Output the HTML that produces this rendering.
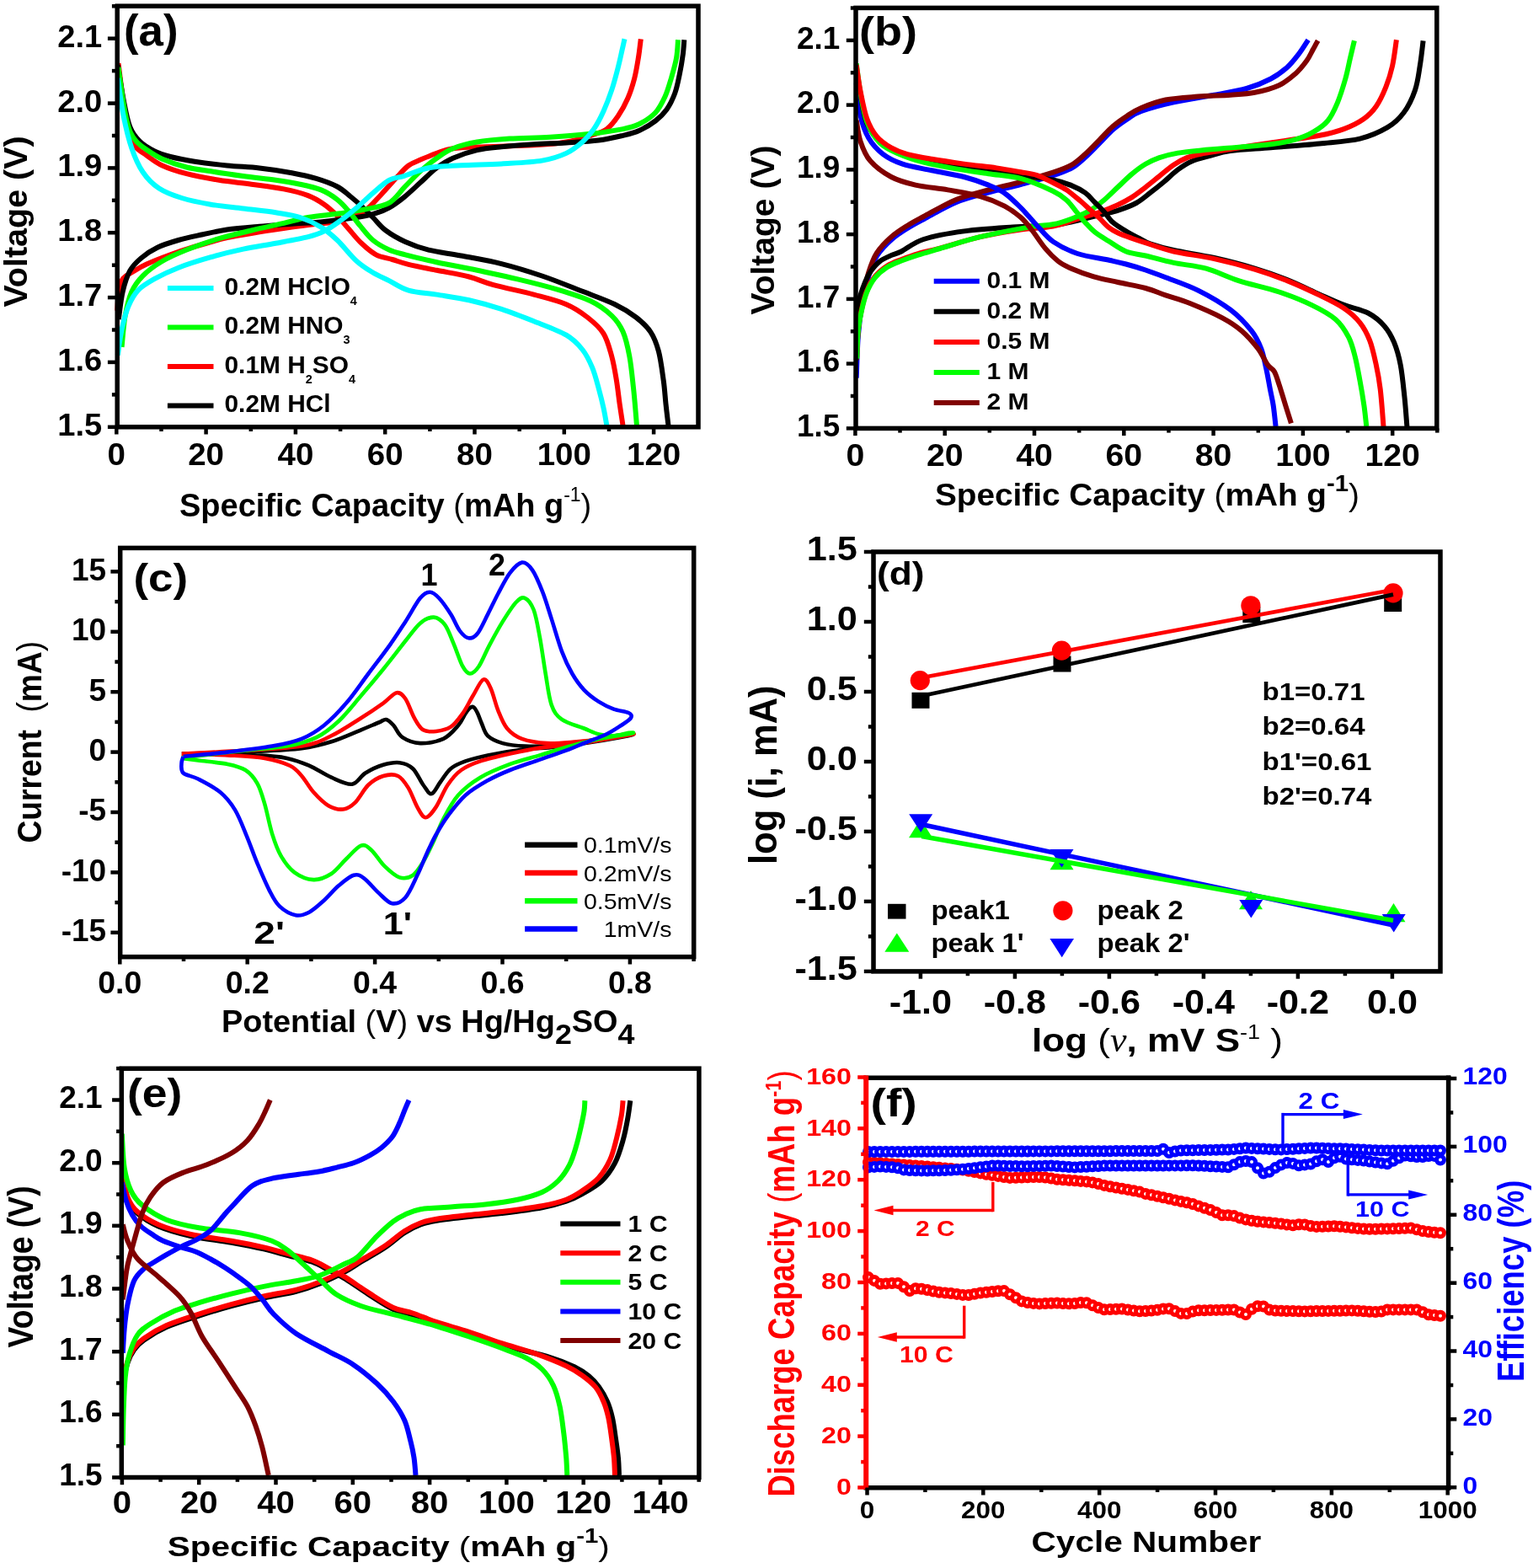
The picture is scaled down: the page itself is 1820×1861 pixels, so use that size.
<!DOCTYPE html>
<html><head><meta charset="utf-8"><style>
html,body{margin:0;padding:0;background:#fff;}
svg{display:block;}
text{font-family:"Liberation Sans",Arial,sans-serif;}
</style></head><body>
<svg xmlns="http://www.w3.org/2000/svg" width="1820" height="1861" viewBox="0 0 1820 1861">
<rect width="1820" height="1861" fill="#fff"/>
<path d="M139.2,368.7 C139.6,364.1 140.5,347.2 141.7,340.8 C142.9,334.4 144.1,333.1 146.5,330.2 C148.9,327.3 151.7,326.2 156.2,323.5 C160.7,320.8 165.8,317.3 173.5,313.8 C181.2,310.3 192.7,305.8 202.3,302.3 C211.9,298.8 220,296.1 231.2,292.7 C242.4,289.3 256.8,285 269.6,282.1 C282.4,279.2 295.2,277.5 308,275.4 C320.8,273.3 335.3,271.2 346.5,269.6 C357.7,268 367.4,266.8 375.4,265.8 C383.4,264.8 388.2,265.1 394.6,263.8 C401,262.5 407.4,260.2 413.8,258 C420.2,255.8 426.7,254.9 433.1,250.4 C439.5,245.9 445.9,237.9 452.3,231.2 C458.7,224.5 466.1,215.8 471.5,210 C476.9,204.2 480.4,199.9 485,196.5 C489.6,193.1 493.6,192 499.2,189.6 C504.8,187.2 512.1,184.1 518.5,181.9 C524.9,179.7 528.1,177.5 537.7,176.2 C547.3,174.9 560.2,174.8 576.2,174.2 C592.2,173.5 617.8,173.2 633.8,172.3 C649.8,171.4 661.1,170.4 672.3,168.5 C683.5,166.6 693.2,163.4 701.2,160.8 C709.2,158.2 715,156.9 720.4,153.1 C725.8,149.2 729.6,143.8 733.8,137.7 C738,131.6 742.2,123.9 745.4,116.5 C748.6,109.1 751,101.5 753.1,93.5 C755.2,85.5 756.6,76.4 757.9,68.5 C759.2,60.6 760.3,50 760.8,46.3" fill="none" stroke="#ff0000" stroke-width="6" stroke-linejoin="round" stroke-linecap="butt"/>
<path d="M140.5,75 C141.5,82.8 144.8,109.8 146.5,122 C148.2,134.2 149.1,140.9 150.5,148 C151.9,155.1 153.1,159.9 155,164.5 C156.9,169.1 158.9,172.2 162,175.5 C165.1,178.8 168.4,180.5 173.5,184 C178.6,187.5 184.7,192.8 192.7,196.5 C200.7,200.2 210.3,203.3 221.5,206.2 C232.7,209.1 247.2,211.7 260,213.8 C272.8,215.9 285.7,216.9 298.5,218.7 C311.3,220.5 325.7,222.2 336.9,224.4 C348.1,226.6 357.8,229.1 365.8,232.1 C373.8,235.1 379.2,238.7 385,242.7 C390.8,246.7 395.6,251.4 400.4,256.2 C405.2,261 409,266.1 413.8,271.5 C418.6,276.9 423.8,283.7 429.2,288.8 C434.6,293.9 440.4,299.1 446.5,302.3 C452.6,305.5 459.4,306.1 465.8,308 C472.2,309.9 476.2,311.7 485,313.8 C493.8,315.9 506.5,318.4 518.5,320.8 C530.5,323.2 545.7,325.6 556.9,328.5 C568.1,331.4 573,334.6 585.8,338.1 C598.6,341.6 619.4,345.8 633.8,349.6 C648.2,353.5 661.7,356.7 672.3,361.2 C682.9,365.7 689.9,370.7 697.3,376.5 C704.7,382.3 711.7,388.1 716.5,395.8 C721.3,403.5 723.6,413.4 726.2,422.7 C728.8,432 730.3,441.9 731.9,451.5 C733.5,461.1 734.5,471.4 735.8,480.4 C737.1,489.4 739,501.2 739.6,505.4" fill="none" stroke="#ff0000" stroke-width="6" stroke-linejoin="round" stroke-linecap="butt"/>
<path d="M140.8,379 C141.6,373.6 143.4,356.1 145.6,346.5 C147.8,336.9 150.5,328.2 154.2,321.5 C157.9,314.8 162.2,310.8 167.7,306.2 C173.1,301.6 179.5,297.2 186.9,293.7 C194.3,290.2 202.9,287.6 211.9,285 C220.9,282.4 231.2,280.4 240.8,278.3 C250.4,276.2 258.4,274.1 269.6,272.5 C280.8,270.9 295.2,269.8 308,268.7 C320.8,267.6 333.7,266.8 346.5,265.8 C359.3,264.8 372.2,264.2 385,262.9 C397.8,261.6 413.9,259.4 423.5,258 C433.1,256.6 436.3,256.1 442.7,254.2 C449.1,252.3 455.7,249.9 461.9,246.5 C468.1,243.1 473.8,238.8 480,233.8 C486.2,228.8 492.8,222.3 499.2,216.5 C505.6,210.7 512.1,204 518.5,199.2 C524.9,194.4 529.7,191.2 537.7,187.7 C545.7,184.2 556.9,180.3 566.5,178.1 C576.1,175.8 584.2,175.3 595.4,174.2 C606.6,173.1 621,172.1 633.8,171.3 C646.6,170.5 659.5,170.2 672.3,169.4 C685.1,168.6 699.6,167.9 710.8,166.5 C722,165.1 731.6,162.7 739.6,160.8 C747.6,158.9 752.4,157.9 758.8,155 C765.2,152.1 772.6,147.7 778.1,143.5 C783.6,139.3 787.6,135.4 791.5,130 C795.4,124.5 798.6,117.8 801.2,110.8 C803.8,103.8 805.3,95.4 806.9,87.7 C808.5,80 809.9,71.3 810.8,64.6 C811.7,57.9 812,50.2 812.3,47.3" fill="none" stroke="#000000" stroke-width="6" stroke-linejoin="round" stroke-linecap="butt"/>
<path d="M139.8,77.3 C140.9,84 144.1,105.5 146.5,117.7 C148.9,129.9 151,142.1 154.2,150.4 C157.4,158.7 161,162.9 165.8,167.7 C170.6,172.5 176.9,176.1 183,179.2 C189.1,182.2 194.3,183.9 202.3,186 C210.3,188.1 220,189.9 231.2,191.7 C242.4,193.4 256.8,195.2 269.6,196.5 C282.4,197.8 295.2,198 308,199.4 C320.8,200.8 335.3,203.1 346.5,205.2 C357.7,207.3 366.4,209.2 375.4,211.9 C384.4,214.6 393.7,218 400.4,221.5 C407.1,225 411,229.2 415.8,233 C420.6,236.8 424.7,240.4 429.2,244.6 C433.7,248.8 437.9,253.2 442.7,258 C447.5,262.8 451.6,268.7 458,273.5 C464.4,278.3 472.7,283.1 481.2,287 C489.7,290.9 497.8,293.9 508.8,296.7 C519.8,299.4 532.9,300.8 547.3,303.5 C561.7,306.2 579.4,309.1 595.4,313.1 C611.4,317.1 627.5,322.1 643.5,327.5 C659.5,332.9 677.1,340.2 691.5,345.8 C705.9,351.4 719.4,356.1 730,361.2 C740.6,366.3 748,371.1 755,376.5 C762,381.9 767.8,387.1 772.3,393.8 C776.8,400.5 779.3,407.3 781.9,416.9 C784.5,426.5 786.2,440.9 787.7,451.5 C789.2,462.1 789.6,471.4 790.6,480.4 C791.6,489.4 793,501.2 793.5,505.4" fill="none" stroke="#000000" stroke-width="6" stroke-linejoin="round" stroke-linecap="butt"/>
<path d="M144.6,411.9 C145.2,405.8 146.6,386.3 148.5,375.4 C150.4,364.5 152.7,354.5 156.2,346.5 C159.7,338.5 163.5,333.4 169.6,327.3 C175.7,321.2 184,315.1 192.7,310 C201.3,304.9 210.3,301 221.5,296.5 C232.7,292 247.2,286.9 260,283.1 C272.8,279.3 285.7,276.6 298.5,273.5 C311.3,270.4 325.7,267.4 336.9,264.8 C348.1,262.2 354.6,259.9 365.8,258 C377,256.1 393,254.9 404.2,253.3 C415.4,251.7 423.5,250.6 433.1,248.5 C442.7,246.4 454.1,245.2 461.9,240.8 C469.7,236.4 473.8,228.6 480,222.3 C486.2,216 492.8,208.9 499.2,203.1 C505.6,197.3 512.1,192.2 518.5,187.7 C524.9,183.2 529.7,179.4 537.7,176.2 C545.7,173 555.3,170.4 566.5,168.5 C577.7,166.6 590.6,165.6 605,164.6 C619.4,163.6 637.1,163.7 653.1,162.7 C669.1,161.7 686.8,160.4 701.2,158.8 C715.6,157.2 730,155 739.6,153.1 C749.2,151.2 752.4,150.5 758.8,147.3 C765.2,144.1 773,139.2 778.1,133.8 C783.2,128.4 786.4,121.6 789.6,114.6 C792.8,107.5 795,99.2 797.3,91.5 C799.5,83.8 801.8,75.9 803.1,68.5 C804.4,61.1 804.7,50.8 805,47.3" fill="none" stroke="#00ff00" stroke-width="6" stroke-linejoin="round" stroke-linecap="butt"/>
<path d="M140.5,80 C141.5,87 144.8,111.5 146.5,122 C148.2,132.5 149.1,137.1 150.5,143 C151.9,148.9 153.1,153.3 155,157.5 C156.9,161.7 158.9,164.7 162,168 C165.1,171.3 168.4,173.8 173.5,177.3 C178.6,180.8 184.7,185.3 192.7,188.8 C200.7,192.3 211.9,196.1 221.5,198.5 C231.1,200.9 239.2,201.6 250.4,203.3 C261.6,205.1 276,207.2 288.8,209 C301.6,210.8 316.1,212.2 327.3,213.8 C338.5,215.4 347.2,216.8 356.2,218.7 C365.2,220.6 373.8,222.4 381.2,225.4 C388.6,228.4 395,232.7 400.4,236.9 C405.8,241.1 409.3,245.3 413.8,250.4 C418.3,255.5 422.5,261.9 427.3,267.7 C432.1,273.5 436.9,280.2 442.7,285 C448.5,289.8 455.5,293.6 461.9,296.5 C468.3,299.4 471.8,299.9 481.2,302.3 C490.6,304.8 504.3,308.1 518.5,311.2 C532.7,314.3 550.5,317.4 566.5,320.8 C582.5,324.2 598.6,327.5 614.6,331.3 C630.6,335.1 648.3,339.5 662.7,343.8 C677.1,348.1 690.6,352.2 701.2,357.3 C711.8,362.4 719.8,368.5 726.2,374.6 C732.6,380.7 736.1,385.8 739.6,393.8 C743.1,401.8 745.2,411.5 747.3,422.7 C749.4,433.9 750.6,447.4 752.1,461.2 C753.6,475 755.4,498 756,505.4" fill="none" stroke="#00ff00" stroke-width="6" stroke-linejoin="round" stroke-linecap="butt"/>
<path d="M139.8,421.5 C140.6,416.4 142.5,400.4 144.6,390.8 C146.7,381.2 149.1,371.5 152.3,363.8 C155.5,356.1 158.7,350 163.8,344.6 C168.9,339.2 175.1,335.7 183.1,331.2 C191.1,326.7 200.7,322 211.9,317.7 C223.1,313.4 237.6,308.9 250.4,305.2 C263.2,301.5 276,298.3 288.8,295.6 C301.6,292.9 314.5,291.2 327.3,288.8 C340.1,286.4 356.2,283.6 365.8,281.2 C375.4,278.8 378.6,277.6 385,274.4 C391.4,271.2 397.8,266.5 404.2,261.9 C410.6,257.2 417.1,251.9 423.5,246.5 C429.9,241.1 436.3,234.6 442.7,229.2 C449.1,223.8 455.7,217.2 461.9,213.8 C468.1,210.4 472.2,211.2 480,208.8 C487.8,206.4 497.6,201.3 508.8,199.2 C520,197.1 532.9,197.1 547.3,196.3 C561.7,195.5 579.4,195.4 595.4,194.4 C611.4,193.4 630.7,192.7 643.5,190.6 C656.3,188.5 664.3,185.6 672.3,181.9 C680.3,178.2 686,173.3 691.5,168.5 C697,163.7 700.8,159.2 705,153.1 C709.2,147 713,139.6 716.5,131.9 C720,124.2 723.3,115.6 726.2,106.9 C729.1,98.2 731.7,88 733.8,80 C735.9,72 737.4,64.4 738.7,58.8 C740,53.2 741,48.4 741.5,46.3" fill="none" stroke="#00ffff" stroke-width="6" stroke-linejoin="round" stroke-linecap="butt"/>
<path d="M139.8,92.7 C140.9,100.1 143.8,123.1 146.5,136.9 C149.2,150.7 152.3,164.2 156.2,175.4 C160,186.6 164.2,196.2 169.6,204.2 C175,212.2 181.1,218.4 188.8,223.5 C196.5,228.6 205.5,231.8 215.8,235 C226.1,238.2 238.2,240.6 250.4,242.7 C262.6,244.8 276,245.9 288.8,247.5 C301.6,249.1 316.1,250.6 327.3,252.3 C338.5,254.1 347.2,255.1 356.2,258 C365.2,260.9 373.8,265.1 381.2,269.6 C388.6,274.1 393.3,278.3 400.4,285 C407.4,291.7 416.4,303.6 423.5,310 C430.6,316.4 436.3,319.6 442.7,323.5 C449.1,327.4 454.8,329.6 461.9,333.1 C468.9,336.6 475.6,341.9 485,344.6 C494.4,347.4 506.5,347.7 518.5,349.6 C530.5,351.6 544.1,353.4 556.9,356.3 C569.7,359.2 582.6,362.7 595.4,366.9 C608.2,371.1 621,376.2 633.8,381.3 C646.6,386.4 662.7,392.1 672.3,397.7 C681.9,403.3 686.4,408.6 691.5,415 C696.6,421.4 699.9,428.5 703.1,436.2 C706.3,443.9 708.6,453.2 710.8,461.2 C713,469.2 714.9,476.8 716.5,484.2 C718.1,491.6 719.8,501.9 720.4,505.4" fill="none" stroke="#00ffff" stroke-width="6" stroke-linejoin="round" stroke-linecap="butt"/>
<rect x="139.2" y="7.2" width="689.8" height="499.6" fill="none" stroke="#000" stroke-width="5.5"/>
<line x1="127.9" y1="506.8" x2="139.2" y2="506.8" stroke="#000" stroke-width="4.5" stroke-linecap="butt"/>
<line x1="127.9" y1="429.9" x2="139.2" y2="429.9" stroke="#000" stroke-width="4.5" stroke-linecap="butt"/>
<line x1="127.9" y1="353.1" x2="139.2" y2="353.1" stroke="#000" stroke-width="4.5" stroke-linecap="butt"/>
<line x1="127.9" y1="276.2" x2="139.2" y2="276.2" stroke="#000" stroke-width="4.5" stroke-linecap="butt"/>
<line x1="127.9" y1="199.4" x2="139.2" y2="199.4" stroke="#000" stroke-width="4.5" stroke-linecap="butt"/>
<line x1="127.9" y1="122.6" x2="139.2" y2="122.6" stroke="#000" stroke-width="4.5" stroke-linecap="butt"/>
<line x1="127.9" y1="45.7" x2="139.2" y2="45.7" stroke="#000" stroke-width="4.5" stroke-linecap="butt"/>
<line x1="132.9" y1="468.4" x2="139.2" y2="468.4" stroke="#000" stroke-width="4.5" stroke-linecap="butt"/>
<line x1="132.9" y1="391.5" x2="139.2" y2="391.5" stroke="#000" stroke-width="4.5" stroke-linecap="butt"/>
<line x1="132.9" y1="314.7" x2="139.2" y2="314.7" stroke="#000" stroke-width="4.5" stroke-linecap="butt"/>
<line x1="132.9" y1="237.8" x2="139.2" y2="237.8" stroke="#000" stroke-width="4.5" stroke-linecap="butt"/>
<line x1="132.9" y1="161" x2="139.2" y2="161" stroke="#000" stroke-width="4.5" stroke-linecap="butt"/>
<line x1="132.9" y1="84.1" x2="139.2" y2="84.1" stroke="#000" stroke-width="4.5" stroke-linecap="butt"/>
<line x1="132.9" y1="7.3" x2="139.2" y2="7.3" stroke="#000" stroke-width="4.5" stroke-linecap="butt"/>
<line x1="138.3" y1="506.8" x2="138.3" y2="515.5" stroke="#000" stroke-width="4.5" stroke-linecap="butt"/>
<line x1="244.6" y1="506.8" x2="244.6" y2="515.5" stroke="#000" stroke-width="4.5" stroke-linecap="butt"/>
<line x1="350.9" y1="506.8" x2="350.9" y2="515.5" stroke="#000" stroke-width="4.5" stroke-linecap="butt"/>
<line x1="457.2" y1="506.8" x2="457.2" y2="515.5" stroke="#000" stroke-width="4.5" stroke-linecap="butt"/>
<line x1="563.5" y1="506.8" x2="563.5" y2="515.5" stroke="#000" stroke-width="4.5" stroke-linecap="butt"/>
<line x1="669.8" y1="506.8" x2="669.8" y2="515.5" stroke="#000" stroke-width="4.5" stroke-linecap="butt"/>
<line x1="776.1" y1="506.8" x2="776.1" y2="515.5" stroke="#000" stroke-width="4.5" stroke-linecap="butt"/>
<line x1="191.5" y1="506.8" x2="191.5" y2="512" stroke="#000" stroke-width="4.5" stroke-linecap="butt"/>
<line x1="297.8" y1="506.8" x2="297.8" y2="512" stroke="#000" stroke-width="4.5" stroke-linecap="butt"/>
<line x1="404.1" y1="506.8" x2="404.1" y2="512" stroke="#000" stroke-width="4.5" stroke-linecap="butt"/>
<line x1="510.4" y1="506.8" x2="510.4" y2="512" stroke="#000" stroke-width="4.5" stroke-linecap="butt"/>
<line x1="616.7" y1="506.8" x2="616.7" y2="512" stroke="#000" stroke-width="4.5" stroke-linecap="butt"/>
<line x1="723" y1="506.8" x2="723" y2="512" stroke="#000" stroke-width="4.5" stroke-linecap="butt"/>
<text x="121.2" y="516.8" font-size="37" font-weight="bold" fill="#000" text-anchor="end" textLength="53" lengthAdjust="spacingAndGlyphs">1.5</text>
<text x="121.2" y="439.9" font-size="37" font-weight="bold" fill="#000" text-anchor="end" textLength="53" lengthAdjust="spacingAndGlyphs">1.6</text>
<text x="121.2" y="363.1" font-size="37" font-weight="bold" fill="#000" text-anchor="end" textLength="53" lengthAdjust="spacingAndGlyphs">1.7</text>
<text x="121.2" y="286.2" font-size="37" font-weight="bold" fill="#000" text-anchor="end" textLength="53" lengthAdjust="spacingAndGlyphs">1.8</text>
<text x="121.2" y="209.4" font-size="37" font-weight="bold" fill="#000" text-anchor="end" textLength="53" lengthAdjust="spacingAndGlyphs">1.9</text>
<text x="121.2" y="132.6" font-size="37" font-weight="bold" fill="#000" text-anchor="end" textLength="53" lengthAdjust="spacingAndGlyphs">2.0</text>
<text x="121.2" y="55.7" font-size="37" font-weight="bold" fill="#000" text-anchor="end" textLength="53" lengthAdjust="spacingAndGlyphs">2.1</text>
<text x="138.3" y="552" font-size="37" font-weight="bold" fill="#000" text-anchor="middle" textLength="21.4" lengthAdjust="spacingAndGlyphs">0</text>
<text x="244.6" y="552" font-size="37" font-weight="bold" fill="#000" text-anchor="middle" textLength="42.8" lengthAdjust="spacingAndGlyphs">20</text>
<text x="350.9" y="552" font-size="37" font-weight="bold" fill="#000" text-anchor="middle" textLength="42.8" lengthAdjust="spacingAndGlyphs">40</text>
<text x="457.2" y="552" font-size="37" font-weight="bold" fill="#000" text-anchor="middle" textLength="42.8" lengthAdjust="spacingAndGlyphs">60</text>
<text x="563.5" y="552" font-size="37" font-weight="bold" fill="#000" text-anchor="middle" textLength="42.8" lengthAdjust="spacingAndGlyphs">80</text>
<text x="669.8" y="552" font-size="37" font-weight="bold" fill="#000" text-anchor="middle" textLength="64.2" lengthAdjust="spacingAndGlyphs">100</text>
<text x="776.1" y="552" font-size="37" font-weight="bold" fill="#000" text-anchor="middle" textLength="64.2" lengthAdjust="spacingAndGlyphs">120</text>
<text x="147" y="53.9" font-size="52" font-weight="bold" fill="#000" text-anchor="start" textLength="64.5" lengthAdjust="spacingAndGlyphs">(a)</text>
<line x1="198.9" y1="342" x2="253.5" y2="342" stroke="#00ffff" stroke-width="6" stroke-linecap="butt"/>
<text x="266.5" y="349.5" font-size="29" font-weight="bold" fill="#000" text-anchor="start" textLength="157.4" lengthAdjust="spacingAndGlyphs"><tspan>0.2M HClO</tspan><tspan font-size="14" dy="12.4">4</tspan></text>
<line x1="198.9" y1="388.5" x2="253.5" y2="388.5" stroke="#00ff00" stroke-width="6" stroke-linecap="butt"/>
<text x="266.5" y="396.0" font-size="29" font-weight="bold" fill="#000" text-anchor="start" textLength="149.1" lengthAdjust="spacingAndGlyphs"><tspan>0.2M HNO</tspan><tspan font-size="14" dy="12.4">3</tspan></text>
<line x1="198.9" y1="435" x2="253.5" y2="435" stroke="#ff0000" stroke-width="6" stroke-linecap="butt"/>
<text x="266.5" y="442.5" font-size="29" font-weight="bold" fill="#000" text-anchor="start" textLength="155.5" lengthAdjust="spacingAndGlyphs"><tspan>0.1M H</tspan><tspan font-size="14" dy="12.4">2</tspan><tspan dy="-12.4">SO</tspan><tspan font-size="14" dy="12.4">4</tspan></text>
<line x1="198.9" y1="481.5" x2="253.5" y2="481.5" stroke="#000000" stroke-width="6" stroke-linecap="butt"/>
<text x="266.5" y="489.0" font-size="29" font-weight="bold" fill="#000" text-anchor="start" textLength="126.1" lengthAdjust="spacingAndGlyphs"><tspan>0.2M HCl</tspan></text>
<text x="213" y="612.9" font-size="38" font-weight="bold">Specific Capacity <tspan font-weight="normal">(</tspan>mAh g<tspan font-size="23" dy="-18" font-weight="normal">-1</tspan><tspan dy="18" font-weight="normal">)</tspan></text>
<text x="31.8" y="364.6" font-size="39.5" font-weight="bold" transform="rotate(-90 31.8 364.6)">Voltage (V)</text>
<path d="M1016.7,448.5 C1017.1,440.1 1017.7,412.9 1018.9,398 C1020.1,383.1 1021.7,370.9 1023.8,359 C1025.9,347.1 1028.7,335.8 1031.6,326.5 C1034.5,317.2 1036.8,310.4 1041.3,303.4 C1045.8,296.3 1052.5,289.6 1058.6,284.2 C1064.7,278.8 1071.4,274.7 1077.8,270.7 C1084.2,266.7 1087.4,265.1 1097,260 C1106.6,254.9 1122.7,245.3 1135.5,240 C1148.3,234.7 1161.2,231.9 1174,228.4 C1186.8,224.9 1199.7,222.2 1212.4,218.8 C1225.2,215.4 1240.5,211.4 1250.5,208.2 C1260.5,205 1266.1,203.1 1272.5,199.4 C1278.9,195.7 1283.5,191.1 1289,186.2 C1294.5,181.3 1300,175.3 1305.5,169.8 C1311,164.3 1316.5,158.1 1322,153.3 C1327.5,148.5 1333,144.8 1338.5,141.2 C1344,137.6 1345.8,135.3 1355,132 C1364.2,128.7 1379.1,124.6 1393.5,121.4 C1407.9,118.2 1427.1,115.4 1441.5,112.7 C1455.9,110 1468.8,108.2 1480,105 C1491.2,101.8 1500.8,97.7 1508.8,93.5 C1516.8,89.3 1522.6,84.8 1528.1,80 C1533.5,75.2 1537.3,70 1541.5,64.6 C1545.7,59.1 1551.2,50.2 1553.1,47.3" fill="none" stroke="#0000ff" stroke-width="6" stroke-linejoin="round" stroke-linecap="butt"/>
<path d="M1016.7,427.3 C1017,421.9 1017.6,406.5 1018.7,394.6 C1019.8,382.8 1021.4,368.1 1023.5,356.2 C1025.6,344.3 1028.3,332.8 1031.2,323.5 C1034.1,314.2 1036.3,307.4 1040.8,300.4 C1045.3,293.3 1052,286.6 1058.1,281.2 C1064.2,275.8 1070.9,271.7 1077.3,267.7 C1083.7,263.7 1086.9,262.1 1096.5,257 C1106.1,251.9 1122.2,242.2 1135,236.9 C1147.8,231.6 1160.7,228.9 1173.5,225.4 C1186.3,221.9 1199.2,219.2 1211.9,215.8 C1224.7,212.4 1240,208 1250,204.7 C1260,201.4 1265.6,199.6 1272,195.9 C1278.4,192.2 1283,187.6 1288.5,182.7 C1294,177.8 1299.5,171.8 1305,166.3 C1310.5,160.8 1315.9,154.6 1321.4,149.8 C1326.9,145 1332.3,141.3 1337.9,137.7 C1343.5,134.1 1347.3,131.2 1355,128 C1362.7,124.8 1372.6,120.7 1383.8,118.5 C1395,116.3 1409.5,115.6 1422.3,114.6 C1435.1,113.6 1449.6,113.5 1460.8,112.7 C1472,111.9 1480,111.7 1489.6,109.8 C1499.2,107.9 1510.5,104.9 1518.5,101.2 C1526.5,97.5 1532.2,92.5 1537.7,87.7 C1543.2,82.9 1547.7,77.1 1551.2,72.3 C1554.7,67.5 1556.6,62.8 1558.8,58.8 C1561,54.8 1563.6,50 1564.6,48.3" fill="none" stroke="#800000" stroke-width="6" stroke-linejoin="round" stroke-linecap="butt"/>
<path d="M1016.9,375 C1017,374 1016.8,372.7 1017.5,368.8 C1018.2,364.9 1019.6,357.3 1021.2,351.6 C1022.8,345.9 1025.1,339.4 1027.2,334.4 C1029.3,329.4 1031.2,325.5 1034.1,321.5 C1037,317.5 1040.5,313.3 1044.4,310.3 C1048.3,307.3 1053,305.4 1057.3,303.4 C1061.6,301.4 1063.5,301.7 1070,298.5 C1076.5,295.3 1084.1,288 1096.5,284 C1108.9,280 1127,276.8 1144.6,274.4 C1162.2,272 1184.7,270.7 1202.3,269.5 C1219.9,268.3 1236.5,268.8 1250,267.4 C1263.5,265.9 1273.8,262.8 1283,260.8 C1292.2,258.8 1297.7,257.1 1305,255.3 C1312.3,253.5 1319.6,252.2 1326.9,249.8 C1334.2,247.4 1342.5,244.5 1348.9,241 C1355.3,237.5 1359.9,233.1 1365.4,228.9 C1370.9,224.7 1376.4,220.3 1381.9,215.7 C1387.4,211.1 1392.9,205.4 1398.4,201.4 C1403.9,197.4 1408.4,194.2 1414.8,191.5 C1421.2,188.8 1429.1,187 1436.8,184.9 C1444.5,182.8 1448.8,180.6 1460.8,179 C1472.8,177.4 1491.2,176.6 1508.8,175.2 C1526.4,173.8 1548.9,172.2 1566.5,170.4 C1584.1,168.6 1601.1,167.8 1614.6,164.6 C1628.1,161.4 1638.6,156.3 1647.3,151.2 C1656,146.1 1661,141.2 1666.5,133.8 C1672,126.4 1676.8,116.2 1680,106.9 C1683.2,97.6 1684.2,87.9 1685.8,78.1 C1687.4,68.3 1689,53.3 1689.6,48.3" fill="none" stroke="#000000" stroke-width="6" stroke-linejoin="round" stroke-linecap="butt"/>
<path d="M1017.3,424 C1017.5,418.8 1017.7,402.4 1018.6,393 C1019.5,383.6 1021.2,375.2 1022.9,367.3 C1024.6,359.4 1026.3,352.2 1028.9,345.8 C1031.5,339.4 1034.4,333.6 1038.4,328.6 C1042.4,323.6 1047.7,319.1 1053,315.7 C1058.3,312.3 1064,310.4 1070.2,308 C1076.4,305.6 1082.4,303.3 1090,301.1 C1097.6,298.9 1103.5,297.9 1115.8,294.6 C1128.1,291.3 1147.8,284.9 1163.8,281.2 C1179.8,277.5 1197.5,274.6 1211.9,272.5 C1226.3,270.4 1238.2,270.8 1250,268.5 C1261.8,266.2 1273.8,261.4 1283,258.6 C1292.2,255.9 1297.7,254.6 1305,252 C1312.3,249.4 1320.5,246.1 1326.9,243.2 C1333.3,240.3 1337.9,237.9 1343.4,234.4 C1348.9,230.9 1354.4,226.5 1359.9,222.3 C1365.4,218.1 1370.9,213.5 1376.4,209.1 C1381.9,204.7 1387.4,199.6 1392.9,195.9 C1398.4,192.2 1403.8,189.3 1409.3,187.1 C1414.8,184.9 1418.8,184.1 1425.8,182.7 C1432.8,181.3 1437.4,180.7 1451.2,178.5 C1465,176.3 1489.6,172.3 1508.8,169.4 C1528,166.5 1552.1,163.5 1566.5,160.8 C1580.9,158.1 1586.7,156.3 1595.4,153.1 C1604.1,149.9 1612.1,146 1618.5,141.5 C1624.9,137 1629.3,132.6 1633.8,126.2 C1638.3,119.8 1642.2,111.1 1645.4,103.1 C1648.6,95.1 1651,87.4 1653.1,78.1 C1655.2,68.8 1657.1,52.4 1657.9,47.3" fill="none" stroke="#ff0000" stroke-width="6" stroke-linejoin="round" stroke-linecap="butt"/>
<path d="M1017.3,425.6 C1017.5,420.4 1017.7,404.1 1018.6,394.6 C1019.5,385.1 1021.2,376.7 1022.9,368.8 C1024.6,360.9 1026.3,353.8 1028.9,347.3 C1031.5,340.9 1034.4,335.1 1038.4,330.1 C1042.4,325.1 1047.7,320.6 1053,317.2 C1058.3,313.8 1064,311.9 1070.2,309.5 C1076.4,307.1 1082.4,305 1090,302.6 C1097.6,300.2 1103.5,298.6 1115.8,295 C1128.1,291.4 1146.2,285.4 1163.8,281.2 C1181.4,277 1207.1,272.1 1221.5,269.6 C1235.9,267.1 1241.6,268 1250,266.3 C1258.4,264.6 1264.7,262.4 1272,259.7 C1279.3,256.9 1287.6,253.5 1294,249.8 C1300.4,246.1 1304.9,242.3 1310.4,237.7 C1315.9,233.1 1321.4,227.4 1326.9,222.3 C1332.4,217.2 1337.9,211.5 1343.4,206.9 C1348.9,202.3 1354.4,198.1 1359.9,194.8 C1365.4,191.5 1370,189.3 1376.4,187.1 C1382.8,184.9 1390.2,183 1398.4,181.6 C1406.6,180.2 1417,179.3 1425.8,178.4 C1434.6,177.5 1437.4,177.4 1451.2,176.2 C1465,175 1494.4,173.1 1508.8,171.3 C1523.2,169.5 1529.4,168 1537.7,165.6 C1546,163.2 1552.4,160.6 1558.8,156.9 C1565.2,153.2 1571.4,149.3 1576.2,143.5 C1581,137.7 1584.2,130.6 1587.7,122.3 C1591.2,114 1594.7,102.5 1597.3,93.5 C1599.9,84.5 1601.3,76 1603.1,68.5 C1604.9,61 1607.1,51.7 1607.9,48.3" fill="none" stroke="#00ff00" stroke-width="6" stroke-linejoin="round" stroke-linecap="butt"/>
<path d="M1016.7,98.5 C1017.5,104.9 1019.1,126 1021.5,136.9 C1023.9,147.8 1026.7,156.1 1031.2,163.8 C1035.7,171.5 1041.8,178 1048.5,183.1 C1055.2,188.2 1061.9,191.4 1071.5,194.6 C1081.1,197.8 1094,199.7 1106.2,202.3 C1118.4,204.9 1133.4,207.1 1144.6,210 C1155.8,212.9 1165.5,216.4 1173.5,219.6 C1181.5,222.8 1186.3,224.7 1192.7,229.2 C1199.1,233.7 1205.5,240.1 1211.9,246.5 C1218.3,252.9 1224.8,261 1231.2,267.7 C1237.6,274.4 1242.4,281.3 1250.4,286.9 C1258.4,292.4 1268,297.3 1279.2,301 C1290.4,304.7 1308.1,306.9 1317.7,309 C1327.3,311.1 1329.9,311.6 1336.9,313.5 C1344,315.4 1352.2,317.9 1360,320.5 C1367.8,323.1 1373.4,325.2 1383.8,329.2 C1394.2,333.2 1409.5,338.2 1422.3,344.6 C1435.1,351 1450.2,359.7 1460.8,367.7 C1471.4,375.7 1479.7,385 1485.8,392.7 C1491.9,400.4 1494.4,406.4 1497.3,413.8 C1500.2,421.2 1501.3,428.9 1503.1,436.9 C1504.9,444.9 1506.5,454.5 1507.9,461.9 C1509.3,469.3 1510.6,473.8 1511.7,481.2 C1512.8,488.6 1514.1,502 1514.6,506.2" fill="none" stroke="#0000ff" stroke-width="6" stroke-linejoin="round" stroke-linecap="butt"/>
<path d="M1016.7,80 C1017.5,85.3 1019.4,100.9 1021.5,112 C1023.6,123.1 1024.7,136.6 1029.2,146.5 C1033.7,156.4 1040.5,165.1 1048.5,171.5 C1056.5,177.9 1066.1,181.2 1077.3,185 C1088.5,188.8 1101.4,191.9 1115.8,194.6 C1130.2,197.3 1147.8,199.1 1163.8,201.3 C1179.8,203.6 1197.5,206.1 1211.9,208.1 C1226.3,210.1 1240,211.5 1250,213.5 C1260,215.5 1265.6,217.5 1272,220.1 C1278.4,222.7 1283.9,225.6 1288.5,228.9 C1293.1,232.2 1295.8,236.2 1299.5,239.9 C1303.2,243.6 1306.8,246.9 1310.4,250.9 C1314.1,254.9 1316.8,260.1 1321.4,264.1 C1326,268.1 1332.4,271.8 1337.9,275.1 C1343.4,278.4 1349.8,281.4 1354.4,283.8 C1359,286.2 1358.9,287.1 1365.4,289.3 C1371.9,291.5 1380.8,294.2 1393.5,297 C1406.2,299.8 1425.5,302.4 1441.5,306 C1457.5,309.6 1475.2,314.2 1489.6,318.6 C1504,323 1515.3,327 1528.1,332.1 C1540.9,337.2 1555.3,344.4 1566.5,349.4 C1577.7,354.4 1585.8,358.2 1595.4,361.9 C1605,365.6 1616.2,367.3 1624.2,371.5 C1632.2,375.7 1638.4,381.1 1643.5,386.9 C1648.6,392.7 1651.8,398.5 1655,406.2 C1658.2,413.9 1660.6,422.2 1662.7,433.1 C1664.8,444 1666.2,459.3 1667.5,471.5 C1668.8,483.7 1669.9,500.4 1670.4,506.2" fill="none" stroke="#000000" stroke-width="6" stroke-linejoin="round" stroke-linecap="butt"/>
<path d="M1016.7,75.4 C1017.5,81.2 1019.4,98.5 1021.5,110 C1023.6,121.5 1025.4,134.7 1029.2,144.6 C1033,154.5 1038.2,163.2 1044.6,169.6 C1051,176 1059,179.2 1067.7,183.1 C1076.4,186.9 1085.3,189.8 1096.5,192.7 C1107.7,195.6 1122.2,198.2 1135,200.4 C1147.8,202.7 1160.7,204.3 1173.5,206.2 C1186.3,208.1 1199.2,208.5 1211.9,211.9 C1224.7,215.3 1240.9,222.4 1250,226.7 C1259.1,231 1261.9,233.7 1266.5,237.7 C1271.1,241.7 1273.8,246.5 1277.5,250.9 C1281.2,255.3 1284.8,260.1 1288.5,264.1 C1292.2,268.1 1294.9,271.5 1299.5,275.1 C1304.1,278.8 1309.7,282.1 1315.9,286 C1322.1,289.9 1329.6,295.6 1336.9,298.5 C1344.2,301.4 1350.6,301.3 1360,303.5 C1369.4,305.7 1381.5,309.4 1393.5,311.9 C1405.5,314.4 1419.1,315.2 1431.9,318.7 C1444.7,322.2 1456,328.5 1470.4,333.1 C1484.8,337.7 1504.1,341.7 1518.5,346.5 C1532.9,351.3 1545.7,356.4 1556.9,361.9 C1568.1,367.3 1578.4,372.8 1585.8,379.2 C1593.2,385.6 1597.4,393 1601.2,400.4 C1605,407.8 1606.6,414.9 1608.8,423.5 C1611,432.1 1612.8,442.7 1614.6,452.3 C1616.4,461.9 1618.1,472.2 1619.4,481.2 C1620.7,490.2 1621.8,502 1622.3,506.2" fill="none" stroke="#00ff00" stroke-width="6" stroke-linejoin="round" stroke-linecap="butt"/>
<path d="M1016.7,77.3 C1017.5,82.4 1019.4,97.5 1021.5,108.1 C1023.6,118.7 1026,131.8 1029.2,140.8 C1032.4,149.8 1036,156.1 1040.8,161.9 C1045.6,167.7 1052,171.9 1058.1,175.4 C1064.2,178.9 1069.3,180.9 1077.3,183.1 C1085.3,185.3 1095,186.9 1106.2,188.8 C1117.4,190.7 1131.8,192.8 1144.6,194.6 C1157.4,196.4 1171.9,197.8 1183.1,199.4 C1194.3,201 1203.9,202.8 1211.9,204.2 C1219.9,205.6 1224.9,206 1231.2,208.1 C1237.5,210.2 1244.1,213.9 1250,216.8 C1255.9,219.7 1261,221.9 1266.5,225.6 C1272,229.3 1278.4,235 1283,238.8 C1287.6,242.7 1290.3,245.4 1294,248.7 C1297.7,252 1301.3,255.1 1305,258.6 C1308.7,262.1 1312.2,266.7 1315.9,269.6 C1319.6,272.5 1322.3,274 1326.9,276.2 C1331.5,278.4 1337.9,280.7 1343.4,282.7 C1348.9,284.7 1351.6,285.6 1359.9,288.2 C1368.2,290.8 1379.9,295.4 1393.5,298.5 C1407.1,301.6 1425.5,303.6 1441.5,307.1 C1457.5,310.6 1475.2,315.3 1489.6,319.6 C1504,323.9 1515.3,328 1528.1,333.1 C1540.9,338.2 1555.3,344.9 1566.5,350.4 C1577.7,355.8 1587.4,360.4 1595.4,365.8 C1603.4,371.2 1609.5,376.7 1614.6,383.1 C1619.7,389.5 1623,395.9 1626.2,404.2 C1629.4,412.5 1631.7,423.5 1633.8,433.1 C1635.9,442.7 1637.2,449.7 1638.7,461.9 C1640.2,474.1 1641.9,498.8 1642.5,506.2" fill="none" stroke="#ff0000" stroke-width="6" stroke-linejoin="round" stroke-linecap="butt"/>
<path d="M1016.7,142.7 C1017.5,146.9 1018.8,159.7 1021.5,167.7 C1024.2,175.7 1027,183.8 1033.1,190.8 C1039.2,197.9 1049.1,205.2 1058.1,210 C1067.1,214.8 1075.7,217 1086.9,219.6 C1098.1,222.2 1112.6,223.2 1125.4,225.4 C1138.2,227.7 1152.6,229.9 1163.8,233.1 C1175,236.3 1184.7,240.4 1192.7,244.6 C1200.7,248.8 1206.5,253.3 1211.9,258.1 C1217.4,262.9 1220.6,267.4 1225.4,273.5 C1230.2,279.6 1235.7,288.5 1240.8,294.6 C1245.9,300.7 1251.4,306.1 1256.2,310 C1261,313.9 1262.5,314.6 1269.6,317.7 C1276.6,320.8 1288.9,325.4 1298.5,328.3 C1308.1,331.2 1317,332.7 1327.3,335 C1337.5,337.3 1350.6,339.4 1360,342 C1369.4,344.6 1375,347.4 1383.8,350.4 C1392.6,353.4 1401.5,355.5 1412.7,360 C1423.9,364.5 1441,371.9 1451.2,377.3 C1461.5,382.8 1467.2,386.6 1474.2,392.7 C1481.2,398.8 1488.4,407.1 1493.5,413.8 C1498.6,420.5 1501.8,428.6 1505,433.1 C1508.2,437.6 1510.5,437 1512.7,440.8 C1515,444.6 1516.2,449.5 1518.5,456.2 C1520.8,462.9 1523.8,473.5 1526.2,481.2 C1528.6,488.9 1531.8,498.8 1532.9,502.3" fill="none" stroke="#800000" stroke-width="6" stroke-linejoin="round" stroke-linecap="butt"/>
<rect x="1016" y="9.4" width="689.8" height="499" fill="none" stroke="#000" stroke-width="5.5"/>
<line x1="1004.8" y1="508.4" x2="1016" y2="508.4" stroke="#000" stroke-width="4.5" stroke-linecap="butt"/>
<line x1="1004.8" y1="431.6" x2="1016" y2="431.6" stroke="#000" stroke-width="4.5" stroke-linecap="butt"/>
<line x1="1004.8" y1="354.9" x2="1016" y2="354.9" stroke="#000" stroke-width="4.5" stroke-linecap="butt"/>
<line x1="1004.8" y1="278.1" x2="1016" y2="278.1" stroke="#000" stroke-width="4.5" stroke-linecap="butt"/>
<line x1="1004.8" y1="201.4" x2="1016" y2="201.4" stroke="#000" stroke-width="4.5" stroke-linecap="butt"/>
<line x1="1004.8" y1="124.6" x2="1016" y2="124.6" stroke="#000" stroke-width="4.5" stroke-linecap="butt"/>
<line x1="1004.8" y1="47.9" x2="1016" y2="47.9" stroke="#000" stroke-width="4.5" stroke-linecap="butt"/>
<line x1="1009.8" y1="470" x2="1016" y2="470" stroke="#000" stroke-width="4.5" stroke-linecap="butt"/>
<line x1="1009.8" y1="393.3" x2="1016" y2="393.3" stroke="#000" stroke-width="4.5" stroke-linecap="butt"/>
<line x1="1009.8" y1="316.5" x2="1016" y2="316.5" stroke="#000" stroke-width="4.5" stroke-linecap="butt"/>
<line x1="1009.8" y1="239.8" x2="1016" y2="239.8" stroke="#000" stroke-width="4.5" stroke-linecap="butt"/>
<line x1="1009.8" y1="163" x2="1016" y2="163" stroke="#000" stroke-width="4.5" stroke-linecap="butt"/>
<line x1="1009.8" y1="86.3" x2="1016" y2="86.3" stroke="#000" stroke-width="4.5" stroke-linecap="butt"/>
<line x1="1009.8" y1="9.5" x2="1016" y2="9.5" stroke="#000" stroke-width="4.5" stroke-linecap="butt"/>
<line x1="1015.4" y1="508.4" x2="1015.4" y2="517.1" stroke="#000" stroke-width="4.5" stroke-linecap="butt"/>
<line x1="1121.7" y1="508.4" x2="1121.7" y2="517.1" stroke="#000" stroke-width="4.5" stroke-linecap="butt"/>
<line x1="1228" y1="508.4" x2="1228" y2="517.1" stroke="#000" stroke-width="4.5" stroke-linecap="butt"/>
<line x1="1334.3" y1="508.4" x2="1334.3" y2="517.1" stroke="#000" stroke-width="4.5" stroke-linecap="butt"/>
<line x1="1440.6" y1="508.4" x2="1440.6" y2="517.1" stroke="#000" stroke-width="4.5" stroke-linecap="butt"/>
<line x1="1546.9" y1="508.4" x2="1546.9" y2="517.1" stroke="#000" stroke-width="4.5" stroke-linecap="butt"/>
<line x1="1653.2" y1="508.4" x2="1653.2" y2="517.1" stroke="#000" stroke-width="4.5" stroke-linecap="butt"/>
<line x1="1068.5" y1="508.4" x2="1068.5" y2="513.6" stroke="#000" stroke-width="4.5" stroke-linecap="butt"/>
<line x1="1174.8" y1="508.4" x2="1174.8" y2="513.6" stroke="#000" stroke-width="4.5" stroke-linecap="butt"/>
<line x1="1281.2" y1="508.4" x2="1281.2" y2="513.6" stroke="#000" stroke-width="4.5" stroke-linecap="butt"/>
<line x1="1387.5" y1="508.4" x2="1387.5" y2="513.6" stroke="#000" stroke-width="4.5" stroke-linecap="butt"/>
<line x1="1493.8" y1="508.4" x2="1493.8" y2="513.6" stroke="#000" stroke-width="4.5" stroke-linecap="butt"/>
<line x1="1600.1" y1="508.4" x2="1600.1" y2="513.6" stroke="#000" stroke-width="4.5" stroke-linecap="butt"/>
<line x1="1706.3" y1="508.4" x2="1706.3" y2="513.6" stroke="#000" stroke-width="4.5" stroke-linecap="butt"/>
<text x="997.3" y="518.2" font-size="37" font-weight="bold" fill="#000" text-anchor="end" textLength="51.2" lengthAdjust="spacingAndGlyphs">1.5</text>
<text x="997.3" y="441.4" font-size="37" font-weight="bold" fill="#000" text-anchor="end" textLength="51.2" lengthAdjust="spacingAndGlyphs">1.6</text>
<text x="997.3" y="364.7" font-size="37" font-weight="bold" fill="#000" text-anchor="end" textLength="51.2" lengthAdjust="spacingAndGlyphs">1.7</text>
<text x="997.3" y="287.9" font-size="37" font-weight="bold" fill="#000" text-anchor="end" textLength="51.2" lengthAdjust="spacingAndGlyphs">1.8</text>
<text x="997.3" y="211.2" font-size="37" font-weight="bold" fill="#000" text-anchor="end" textLength="51.2" lengthAdjust="spacingAndGlyphs">1.9</text>
<text x="997.3" y="134.4" font-size="37" font-weight="bold" fill="#000" text-anchor="end" textLength="51.2" lengthAdjust="spacingAndGlyphs">2.0</text>
<text x="997.3" y="57.7" font-size="37" font-weight="bold" fill="#000" text-anchor="end" textLength="51.2" lengthAdjust="spacingAndGlyphs">2.1</text>
<text x="1015.4" y="553.3" font-size="37" font-weight="bold" fill="#000" text-anchor="middle" textLength="21.8" lengthAdjust="spacingAndGlyphs">0</text>
<text x="1121.7" y="553.3" font-size="37" font-weight="bold" fill="#000" text-anchor="middle" textLength="43.6" lengthAdjust="spacingAndGlyphs">20</text>
<text x="1228" y="553.3" font-size="37" font-weight="bold" fill="#000" text-anchor="middle" textLength="43.6" lengthAdjust="spacingAndGlyphs">40</text>
<text x="1334.3" y="553.3" font-size="37" font-weight="bold" fill="#000" text-anchor="middle" textLength="43.6" lengthAdjust="spacingAndGlyphs">60</text>
<text x="1440.6" y="553.3" font-size="37" font-weight="bold" fill="#000" text-anchor="middle" textLength="43.6" lengthAdjust="spacingAndGlyphs">80</text>
<text x="1546.9" y="553.3" font-size="37" font-weight="bold" fill="#000" text-anchor="middle" textLength="65.4" lengthAdjust="spacingAndGlyphs">100</text>
<text x="1653.2" y="553.3" font-size="37" font-weight="bold" fill="#000" text-anchor="middle" textLength="65.4" lengthAdjust="spacingAndGlyphs">120</text>
<text x="1020" y="53.5" font-size="47.8" font-weight="bold" fill="#000" text-anchor="start" textLength="69" lengthAdjust="spacingAndGlyphs">(b)</text>
<line x1="1108.7" y1="333.7" x2="1162.8" y2="333.7" stroke="#0000ff" stroke-width="6" stroke-linecap="butt"/>
<text x="1171.5" y="341.7" font-size="27.5" font-weight="bold" fill="#000" text-anchor="start" textLength="75" lengthAdjust="spacingAndGlyphs">0.1 M</text>
<line x1="1108.7" y1="369.8" x2="1162.8" y2="369.8" stroke="#000000" stroke-width="6" stroke-linecap="butt"/>
<text x="1171.5" y="377.8" font-size="27.5" font-weight="bold" fill="#000" text-anchor="start" textLength="75" lengthAdjust="spacingAndGlyphs">0.2 M</text>
<line x1="1108.7" y1="405.9" x2="1162.8" y2="405.9" stroke="#ff0000" stroke-width="6" stroke-linecap="butt"/>
<text x="1171.5" y="413.9" font-size="27.5" font-weight="bold" fill="#000" text-anchor="start" textLength="75" lengthAdjust="spacingAndGlyphs">0.5 M</text>
<line x1="1108.7" y1="442" x2="1162.8" y2="442" stroke="#00ff00" stroke-width="6" stroke-linecap="butt"/>
<text x="1171.5" y="450" font-size="27.5" font-weight="bold" fill="#000" text-anchor="start" textLength="50" lengthAdjust="spacingAndGlyphs">1 M</text>
<line x1="1108.7" y1="478.1" x2="1162.8" y2="478.1" stroke="#800000" stroke-width="6" stroke-linecap="butt"/>
<text x="1171.5" y="486.1" font-size="27.5" font-weight="bold" fill="#000" text-anchor="start" textLength="50" lengthAdjust="spacingAndGlyphs">2 M</text>
<text x="1110" y="600.1" font-size="37" font-weight="bold" textLength="504" lengthAdjust="spacingAndGlyphs">Specific Capacity <tspan font-weight="normal">(</tspan>mAh g<tspan font-size="28" dy="-17">-1</tspan><tspan dy="17" font-weight="normal">)</tspan></text>
<text x="918.7" y="373.4" font-size="39" font-weight="bold" transform="rotate(-90 918.7 373.4)">Voltage (V)</text>
<path d="M215.8,894.6 C230.8,894.1 281.8,892.9 305.5,891.8 C329.2,890.7 343.6,890.1 358.2,888.2 C372.8,886.3 381.7,883.9 393.4,880.3 C405.1,876.6 419.2,870.1 428.6,866.3 C438,862.5 444.7,859.5 449.7,857.5 C454.7,855.5 455.6,853.4 458.5,854 C461.4,854.6 464.1,857.5 467.3,861 C470.5,864.5 472.5,871.6 477.8,875.1 C483.1,878.6 490.8,881.8 498.9,882.1 C507,882.4 518.9,880.3 526.4,876.8 C533.9,873.3 539.6,866 544,861 C548.4,856 550.2,850.5 552.5,847 C554.8,843.5 556.3,841.2 558,840 C559.7,838.8 561,838.4 562.5,839.5 C564,840.6 565.4,843.2 567,846.5 C568.6,849.8 570,854.5 572,859 C574,863.5 575,869.4 579.1,873.3 C583.2,877.1 589.4,880 596.7,882.1 C604,884.2 612.9,885.2 623.1,885.6 C633.4,886 646.5,885.3 658.2,884.7 C669.9,884.1 678.7,884 693.4,882.1 C708.1,880.2 737,875.1 746.2,873.3 C755.4,871.4 751.4,871 748.5,871 C745.6,871 737.8,871.9 728.6,873.5 C719.4,875.1 705.1,878.3 693.4,880.5 C681.7,882.7 669.9,885.2 658.2,886.7 C646.5,888.2 636.3,887.7 623.1,889.3 C609.9,890.9 590.8,894 579.1,896.4 C567.4,898.8 560,900.8 552.7,903.4 C545.4,906 540.2,908.1 535.2,912.2 C530.2,916.3 526.7,923 522.9,928 C519.1,933 515.7,941.5 512.3,942.1 C508.9,942.7 506.1,936.5 502.4,931.5 C498.7,926.5 494.8,916.6 490.1,912.2 C485.4,907.8 480.2,905.9 474.3,905.2 C468.4,904.5 461.8,905.8 455,907.8 C448.2,909.8 440,913.7 433.8,917.5 C427.6,921.3 424.7,929.8 418,930.7 C411.3,931.6 401.9,926.4 393.4,922.7 C384.9,919 375.8,912.5 367,908.7 C358.2,904.9 350.9,902 340.7,899.9 C330.4,897.8 326.3,897.3 305.5,896.4 C284.7,895.5 230.8,894.9 215.8,894.6" fill="none" stroke="#000000" stroke-width="4.6" stroke-linejoin="round" stroke-linecap="butt"/>
<path d="M215.8,894.6 C227.8,894 264.2,892.4 287.9,890.9 C311.6,889.4 340.6,888.5 358.2,885.6 C375.8,882.7 381.7,878.9 393.4,873.3 C405.1,867.7 418.3,858.7 428.6,852.2 C438.9,845.8 448,839.6 455,834.6 C462,829.6 466.4,823.2 470.8,822.3 C475.2,821.4 477.8,824.3 481.3,829.3 C484.8,834.3 488.4,846 491.9,852.2 C495.4,858.4 498.1,863.7 502.4,866.3 C506.7,868.9 512.1,868.6 517.6,868 C523.1,867.4 529.9,866.2 535.2,862.7 C540.5,859.2 544.8,853 549.2,846.9 C553.6,840.8 557.4,832.5 561.5,825.8 C565.6,819.1 570.3,808 573.8,806.5 C577.3,805 579.7,810.9 582.6,817 C585.5,823.1 588.2,835.5 591.4,843.4 C594.6,851.3 597.3,858.9 602,864.5 C606.7,870.1 611.7,873.9 619.6,876.8 C627.5,879.7 638.7,881.5 649.5,882.1 C660.3,882.7 672.9,881.2 684.6,880.3 C696.3,879.4 709.2,878.3 719.8,876.8 C730.3,875.3 743,872.3 747.9,871.5 C752.8,870.7 755.1,870.8 749,872 C742.9,873.2 723.2,876.8 711,878.8 C698.8,880.8 687.5,882.6 675.8,884.1 C664.1,885.6 652.4,885.9 640.7,887.6 C629,889.4 617.2,892 605.5,894.6 C593.8,897.2 580,900.2 570.3,903.4 C560.6,906.6 554,909.3 547.5,914 C541,918.7 536.6,924.2 531.6,931.5 C526.6,938.8 522,951.4 517.6,957.9 C513.2,964.4 509,970.2 505.3,970.2 C501.6,970.2 498.8,963.8 495.4,957.9 C492,952 488.6,941.2 484.8,935.1 C481,929 477.5,923.4 472.5,921 C467.5,918.6 460.9,919.2 455,921 C449.1,922.8 443,926.2 437.4,931.5 C431.8,936.8 426.5,947.8 421.5,952.6 C416.5,957.4 412.8,959.9 407.5,960.5 C402.2,961.1 395.8,959.6 389.9,956.2 C384,952.8 377.6,946.2 372.3,940.3 C367,934.4 362.9,926.3 358.2,921 C353.5,915.7 351.5,912.2 344.2,908.7 C336.9,905.2 326.6,902 314.3,899.9 C302,897.8 286.7,897.3 270.3,896.4 C253.9,895.5 224.9,894.9 215.8,894.6" fill="none" stroke="#ff0000" stroke-width="4.6" stroke-linejoin="round" stroke-linecap="butt"/>
<path d="M215.8,899.5 C227.8,898.1 267.1,893.2 287.9,890.9 C308.7,888.6 326,888.2 340.7,885.6 C355.4,883 365.6,880.1 375.8,875.1 C386.1,870.1 393.4,863.9 402.2,855.7 C411,847.5 419.8,836 428.6,825.8 C437.4,815.5 446.2,805 455,794.2 C463.8,783.4 474,769.9 481.3,760.8 C488.6,751.7 493.3,744.4 498.9,739.7 C504.5,735 510.1,732.3 515,732.6 C519.9,732.9 524.1,736.1 528.1,741.4 C532.1,746.7 535.2,756.1 538.7,764.3 C542.2,772.5 546,784.8 549.2,790.7 C552.4,796.6 554.8,799.5 558,799.5 C561.2,799.5 564.8,796.3 568.6,790.7 C572.4,785.1 576.2,774.9 580.9,766.1 C585.6,757.3 591.4,746.4 596.7,737.9 C602,729.4 608.1,719.7 612.5,715 C616.9,710.3 619.6,708.3 623.1,709.8 C626.6,711.3 630.7,716.2 633.6,723.8 C636.5,731.4 638.4,742.9 640.7,755.5 C643.1,768.1 645.4,786 647.7,799.5 C650,813 651.5,827.3 654.7,836.4 C657.9,845.5 660.5,849.2 667,853.9 C673.5,858.6 686.1,861.6 693.4,864.5 C700.7,867.4 705.1,870 711,871.5 C716.9,873 722.7,873.6 728.6,873.3 C734.5,873 742.7,870.3 746.2,869.8 C749.7,869.3 755.4,869.3 749.5,870.5 C743.6,871.7 723.3,874.5 711,877 C698.7,879.5 687.5,882.6 675.8,885.8 C664.1,889 652.4,892.9 640.7,896.4 C629,899.9 617.2,902.5 605.5,906.9 C593.8,911.3 580.5,916.6 570.3,922.7 C560,928.9 551.3,935.6 544,943.8 C536.7,952 531.2,963 526.4,972 C521.6,981 519,989.5 515,998 C511,1006.5 506.5,1016.2 502.4,1023 C498.2,1029.8 494.8,1035.7 490.1,1038.8 C485.4,1041.9 479.9,1043.2 474.3,1041.4 C468.7,1039.6 462.3,1033.6 456.7,1028.2 C451.1,1022.8 445.6,1013 440.9,1008.9 C436.2,1004.8 433.6,1001.8 428.6,1003.6 C423.6,1005.4 416.9,1013.9 411,1019.5 C405.1,1025.1 399.8,1032.9 393.4,1037 C386.9,1041.1 379.6,1044.4 372.3,1044.1 C365,1043.8 355.9,1040 349.5,1035.3 C343.1,1030.6 338,1023.5 333.6,1015.9 C329.2,1008.3 326.3,999.9 323.1,989.6 C319.9,979.4 317.2,964.4 314.3,954.4 C311.4,944.4 309.3,936.5 305.5,929.8 C301.7,923.1 297.3,917.8 291.4,914 C285.5,910.2 279.7,908.8 270.3,906.9 C260.9,905 244.3,903.7 235.2,902.5 C226.1,901.3 219,900.3 215.8,899.9" fill="none" stroke="#00ff00" stroke-width="4.6" stroke-linejoin="round" stroke-linecap="butt"/>
<path d="M217.6,898 C226.4,897.1 252.7,894.7 270.3,892.6 C287.9,890.5 308.5,888.2 323.1,885.6 C337.8,883 347.9,880.9 358.2,876.8 C368.4,872.7 375.8,868 384.6,861 C393.4,854 402.2,844.9 411,834.6 C419.8,824.4 428.6,811.2 437.4,799.5 C446.2,787.8 456.4,774.6 463.7,764.3 C471,754 475.4,747 481.3,737.9 C487.2,728.8 494,715.7 498.9,709.8 C503.8,703.9 506.8,702.7 510.5,702.7 C514.2,702.7 517,705.4 521.1,709.8 C525.2,714.2 531.1,722.6 535.2,729.1 C539.3,735.6 542.2,743.8 545.7,748.5 C549.2,753.2 552.8,756.7 556.3,757.3 C559.8,757.9 563,756.7 566.8,752 C570.6,747.3 575,737 579.1,729.1 C583.2,721.2 587,712.7 591.4,704.5 C595.8,696.3 600.8,686 605.5,679.9 C610.2,673.8 615.2,668.2 619.6,667.6 C624,667 627.8,670.5 631.9,676.4 C636,682.2 640.4,693 644.2,702.7 C648,712.4 650.9,722.7 654.7,734.4 C658.5,746.1 662.9,762.2 667,773.1 C671.1,784 674.9,791.9 679.3,799.5 C683.7,807.1 688.1,813.2 693.4,818.8 C698.7,824.4 705.1,829.1 711,832.9 C716.9,836.7 722.7,839.4 728.6,841.6 C734.5,843.8 742.8,844.3 746.2,846 C749.6,847.7 750.5,849.5 749,852 C747.5,854.5 742.3,857.8 737.4,861 C732.5,864.2 727.1,868 719.8,871.5 C712.5,875 700.7,879 693.4,882 C686.1,885 684.6,886 675.8,889.3 C667,892.6 652.4,897.5 640.7,901.6 C629,905.7 615.8,909.9 605.5,914 C595.2,918.1 587.9,921.3 579.1,926.3 C570.3,931.3 560.6,936.8 552.7,943.8 C544.8,950.8 537.4,960.8 531.6,968.5 C525.8,976.2 522,983 518,990 C514,997 511.5,1002.6 507.7,1010.7 C503.9,1018.8 499.8,1029.7 495.4,1038.8 C491,1047.9 486.3,1059.6 481.3,1065.2 C476.3,1070.8 470.8,1073.1 465.5,1072.2 C460.2,1071.3 455.3,1064.9 449.7,1059.9 C444.1,1054.9 437.1,1045.8 432.1,1042.3 C427.1,1038.8 424.8,1037.3 419.8,1038.8 C414.8,1040.3 408.1,1046.1 402.2,1051.1 C396.3,1056.1 390.5,1063.4 384.6,1068.7 C378.7,1074 372.6,1079.8 367,1082.7 C361.4,1085.6 357.1,1087.5 351.2,1086.3 C345.3,1085.1 337.2,1080.7 331.9,1075.7 C326.6,1070.7 324,1064.9 319.6,1056.4 C315.2,1047.9 309.9,1035.2 305.5,1024.7 C301.1,1014.2 297.6,1003.7 293.2,993.1 C288.8,982.5 284.4,970.2 279.1,961.4 C273.8,952.6 268.8,946.4 261.5,940.3 C254.2,934.1 242.5,928.3 235.2,924.5 C227.9,920.7 220.9,920.6 217.6,917.5 C214.3,914.4 215.5,909.2 215.5,906 C215.5,902.8 217.2,899.3 217.6,898" fill="none" stroke="#0000ff" stroke-width="4.6" stroke-linejoin="round" stroke-linecap="butt"/>
<rect x="142.7" y="650.4" width="681" height="485.3" fill="none" stroke="#000" stroke-width="5.5"/>
<line x1="131.4" y1="1106.8" x2="142.7" y2="1106.8" stroke="#000" stroke-width="4.5" stroke-linecap="butt"/>
<line x1="131.4" y1="1035.4" x2="142.7" y2="1035.4" stroke="#000" stroke-width="4.5" stroke-linecap="butt"/>
<line x1="131.4" y1="964" x2="142.7" y2="964" stroke="#000" stroke-width="4.5" stroke-linecap="butt"/>
<line x1="131.4" y1="892.6" x2="142.7" y2="892.6" stroke="#000" stroke-width="4.5" stroke-linecap="butt"/>
<line x1="131.4" y1="821.2" x2="142.7" y2="821.2" stroke="#000" stroke-width="4.5" stroke-linecap="butt"/>
<line x1="131.4" y1="749.8" x2="142.7" y2="749.8" stroke="#000" stroke-width="4.5" stroke-linecap="butt"/>
<line x1="131.4" y1="678.4" x2="142.7" y2="678.4" stroke="#000" stroke-width="4.5" stroke-linecap="butt"/>
<line x1="136.4" y1="1071.1" x2="142.7" y2="1071.1" stroke="#000" stroke-width="4.5" stroke-linecap="butt"/>
<line x1="136.4" y1="999.7" x2="142.7" y2="999.7" stroke="#000" stroke-width="4.5" stroke-linecap="butt"/>
<line x1="136.4" y1="928.3" x2="142.7" y2="928.3" stroke="#000" stroke-width="4.5" stroke-linecap="butt"/>
<line x1="136.4" y1="856.9" x2="142.7" y2="856.9" stroke="#000" stroke-width="4.5" stroke-linecap="butt"/>
<line x1="136.4" y1="785.5" x2="142.7" y2="785.5" stroke="#000" stroke-width="4.5" stroke-linecap="butt"/>
<line x1="136.4" y1="714.1" x2="142.7" y2="714.1" stroke="#000" stroke-width="4.5" stroke-linecap="butt"/>
<line x1="142.3" y1="1135.7" x2="142.3" y2="1144.5" stroke="#000" stroke-width="4.5" stroke-linecap="butt"/>
<line x1="293.7" y1="1135.7" x2="293.7" y2="1144.5" stroke="#000" stroke-width="4.5" stroke-linecap="butt"/>
<line x1="445.1" y1="1135.7" x2="445.1" y2="1144.5" stroke="#000" stroke-width="4.5" stroke-linecap="butt"/>
<line x1="596.5" y1="1135.7" x2="596.5" y2="1144.5" stroke="#000" stroke-width="4.5" stroke-linecap="butt"/>
<line x1="747.9" y1="1135.7" x2="747.9" y2="1144.5" stroke="#000" stroke-width="4.5" stroke-linecap="butt"/>
<line x1="218" y1="1135.7" x2="218" y2="1141" stroke="#000" stroke-width="4.5" stroke-linecap="butt"/>
<line x1="369.4" y1="1135.7" x2="369.4" y2="1141" stroke="#000" stroke-width="4.5" stroke-linecap="butt"/>
<line x1="520.8" y1="1135.7" x2="520.8" y2="1141" stroke="#000" stroke-width="4.5" stroke-linecap="butt"/>
<line x1="672.2" y1="1135.7" x2="672.2" y2="1141" stroke="#000" stroke-width="4.5" stroke-linecap="butt"/>
<line x1="823.6" y1="1135.7" x2="823.6" y2="1141" stroke="#000" stroke-width="4.5" stroke-linecap="butt"/>
<text x="126.2" y="1117.2" font-size="37" font-weight="bold" fill="#000" text-anchor="end">-15</text>
<text x="126.2" y="1045.8" font-size="37" font-weight="bold" fill="#000" text-anchor="end">-10</text>
<text x="126.2" y="974.4" font-size="37" font-weight="bold" fill="#000" text-anchor="end">-5</text>
<text x="126.2" y="903" font-size="37" font-weight="bold" fill="#000" text-anchor="end">0</text>
<text x="126.2" y="831.6" font-size="37" font-weight="bold" fill="#000" text-anchor="end">5</text>
<text x="126.2" y="760.2" font-size="37" font-weight="bold" fill="#000" text-anchor="end">10</text>
<text x="126.2" y="688.8" font-size="37" font-weight="bold" fill="#000" text-anchor="end">15</text>
<text x="142.3" y="1178.7" font-size="36" font-weight="bold" fill="#000" text-anchor="middle" textLength="52" lengthAdjust="spacingAndGlyphs">0.0</text>
<text x="293.7" y="1178.7" font-size="36" font-weight="bold" fill="#000" text-anchor="middle" textLength="52" lengthAdjust="spacingAndGlyphs">0.2</text>
<text x="445.1" y="1178.7" font-size="36" font-weight="bold" fill="#000" text-anchor="middle" textLength="52" lengthAdjust="spacingAndGlyphs">0.4</text>
<text x="596.5" y="1178.7" font-size="36" font-weight="bold" fill="#000" text-anchor="middle" textLength="52" lengthAdjust="spacingAndGlyphs">0.6</text>
<text x="747.9" y="1178.7" font-size="36" font-weight="bold" fill="#000" text-anchor="middle" textLength="52" lengthAdjust="spacingAndGlyphs">0.8</text>
<text x="158.5" y="702.1" font-size="46" font-weight="bold" fill="#000" text-anchor="start" textLength="64.7" lengthAdjust="spacingAndGlyphs">(c)</text>
<line x1="623.1" y1="1002.7" x2="685.5" y2="1002.7" stroke="#000000" stroke-width="6.5" stroke-linecap="butt"/>
<text x="797.5" y="1012.4" font-size="25.7" font-weight="normal" fill="#000" text-anchor="end" textLength="104.6" lengthAdjust="spacingAndGlyphs">0.1mV/s</text>
<line x1="623.1" y1="1036" x2="685.5" y2="1036" stroke="#ff0000" stroke-width="6.5" stroke-linecap="butt"/>
<text x="797.5" y="1045.7" font-size="25.7" font-weight="normal" fill="#000" text-anchor="end" textLength="104.6" lengthAdjust="spacingAndGlyphs">0.2mV/s</text>
<line x1="623.1" y1="1069.3" x2="685.5" y2="1069.3" stroke="#00ff00" stroke-width="6.5" stroke-linecap="butt"/>
<text x="797.5" y="1079" font-size="25.7" font-weight="normal" fill="#000" text-anchor="end" textLength="104.6" lengthAdjust="spacingAndGlyphs">0.5mV/s</text>
<line x1="623.1" y1="1102.6" x2="685.5" y2="1102.6" stroke="#0000ff" stroke-width="6.5" stroke-linecap="butt"/>
<text x="797.5" y="1112.3" font-size="25.7" font-weight="normal" fill="#000" text-anchor="end" textLength="80.8" lengthAdjust="spacingAndGlyphs">1mV/s</text>
<text x="509.5" y="694.8" font-size="36" font-weight="bold" fill="#000" text-anchor="middle">1</text>
<text x="590" y="682.5" font-size="36" font-weight="bold" fill="#000" text-anchor="middle">2</text>
<text x="319.6" y="1119.7" font-size="36" font-weight="bold" fill="#000" text-anchor="middle" textLength="36.6" lengthAdjust="spacingAndGlyphs">2'</text>
<text x="472" y="1109.1" font-size="36" font-weight="bold" fill="#000" text-anchor="middle" textLength="34.3" lengthAdjust="spacingAndGlyphs">1'</text>
<text x="263" y="1225" font-size="36" font-weight="bold" textLength="490.5" lengthAdjust="spacingAndGlyphs">Potential <tspan font-weight="normal">(</tspan>V<tspan font-weight="normal">)</tspan> vs Hg/Hg<tspan font-size="34" dy="14">2</tspan><tspan dy="-14">SO</tspan><tspan font-size="34" dy="14">4</tspan></text>
<text transform="translate(49.4 1000.5) scale(1.085 1) rotate(-90)" font-size="37.2" font-weight="bold" fill="#000" style="white-space:pre">Current  <tspan font-weight="normal">(</tspan>mA<tspan font-weight="normal">)</tspan></text>
<rect x="1082.5" y="821.8" width="21.0" height="19.0" fill="#000000"/>
<rect x="1250.5" y="778.5" width="21.0" height="19.0" fill="#000000"/>
<rect x="1475.3" y="720.0" width="21.0" height="19.0" fill="#000000"/>
<rect x="1643.2" y="707.0" width="21.0" height="19.0" fill="#000000"/>
<line x1="1093" y1="804.5" x2="1654" y2="700" stroke="#ff0000" stroke-width="4.7" stroke-linecap="butt"/>
<circle cx="1092.3" cy="807.6" r="11.6" fill="#ff0000"/>
<circle cx="1260.4" cy="772.1" r="11.6" fill="#ff0000"/>
<circle cx="1484.9" cy="718.8" r="11.6" fill="#ff0000"/>
<circle cx="1654.0" cy="703.9" r="11.6" fill="#ff0000"/>
<line x1="1093" y1="826.3" x2="1654" y2="705.6" stroke="#000000" stroke-width="4.7" stroke-linecap="butt"/>
<polygon points="1079.0,994.3 1107.0,994.3 1093.0,971.9" fill="#00ff00"/>
<polygon points="1246.5,1032.3 1274.5,1032.3 1260.5,1009.9" fill="#00ff00"/>
<polygon points="1471.0,1079.3 1499.0,1079.3 1485.0,1056.9" fill="#00ff00"/>
<polygon points="1640.5,1094.3 1668.5,1094.3 1654.5,1071.9" fill="#00ff00"/>
<polygon points="1079.2,966.3 1107.2,966.3 1093.2,987.8" fill="#0000ff"/>
<polygon points="1246.5,1008.0 1274.5,1008.0 1260.5,1029.5" fill="#0000ff"/>
<polygon points="1471.3,1068.1 1499.3,1068.1 1485.3,1089.6" fill="#0000ff"/>
<polygon points="1640.7,1084.9 1668.7,1084.9 1654.7,1106.4" fill="#0000ff"/>
<line x1="1094.2" y1="978.5" x2="1654" y2="1098" stroke="#0000ff" stroke-width="5.5" stroke-linecap="butt"/>
<line x1="1094.2" y1="992.5" x2="1654" y2="1092.4" stroke="#00ff00" stroke-width="5.5" stroke-linecap="butt"/>
<rect x="1037" y="655" width="673" height="497.9" fill="none" stroke="#000" stroke-width="5.5"/>
<line x1="1025.8" y1="1152.9" x2="1037" y2="1152.9" stroke="#000" stroke-width="4.5" stroke-linecap="butt"/>
<line x1="1025.8" y1="1069.9" x2="1037" y2="1069.9" stroke="#000" stroke-width="4.5" stroke-linecap="butt"/>
<line x1="1025.8" y1="986.9" x2="1037" y2="986.9" stroke="#000" stroke-width="4.5" stroke-linecap="butt"/>
<line x1="1025.8" y1="904" x2="1037" y2="904" stroke="#000" stroke-width="4.5" stroke-linecap="butt"/>
<line x1="1025.8" y1="821" x2="1037" y2="821" stroke="#000" stroke-width="4.5" stroke-linecap="butt"/>
<line x1="1025.8" y1="738" x2="1037" y2="738" stroke="#000" stroke-width="4.5" stroke-linecap="butt"/>
<line x1="1025.8" y1="655" x2="1037" y2="655" stroke="#000" stroke-width="4.5" stroke-linecap="butt"/>
<line x1="1030.8" y1="1111.4" x2="1037" y2="1111.4" stroke="#000" stroke-width="4.5" stroke-linecap="butt"/>
<line x1="1030.8" y1="1028.4" x2="1037" y2="1028.4" stroke="#000" stroke-width="4.5" stroke-linecap="butt"/>
<line x1="1030.8" y1="945.4" x2="1037" y2="945.4" stroke="#000" stroke-width="4.5" stroke-linecap="butt"/>
<line x1="1030.8" y1="862.5" x2="1037" y2="862.5" stroke="#000" stroke-width="4.5" stroke-linecap="butt"/>
<line x1="1030.8" y1="779.5" x2="1037" y2="779.5" stroke="#000" stroke-width="4.5" stroke-linecap="butt"/>
<line x1="1030.8" y1="696.5" x2="1037" y2="696.5" stroke="#000" stroke-width="4.5" stroke-linecap="butt"/>
<line x1="1092.9" y1="1152.9" x2="1092.9" y2="1161.7" stroke="#000" stroke-width="4.5" stroke-linecap="butt"/>
<line x1="1204.9" y1="1152.9" x2="1204.9" y2="1161.7" stroke="#000" stroke-width="4.5" stroke-linecap="butt"/>
<line x1="1316.9" y1="1152.9" x2="1316.9" y2="1161.7" stroke="#000" stroke-width="4.5" stroke-linecap="butt"/>
<line x1="1428.9" y1="1152.9" x2="1428.9" y2="1161.7" stroke="#000" stroke-width="4.5" stroke-linecap="butt"/>
<line x1="1540.9" y1="1152.9" x2="1540.9" y2="1161.7" stroke="#000" stroke-width="4.5" stroke-linecap="butt"/>
<line x1="1652.9" y1="1152.9" x2="1652.9" y2="1161.7" stroke="#000" stroke-width="4.5" stroke-linecap="butt"/>
<line x1="1148.9" y1="1152.9" x2="1148.9" y2="1158.2" stroke="#000" stroke-width="4.5" stroke-linecap="butt"/>
<line x1="1260.9" y1="1152.9" x2="1260.9" y2="1158.2" stroke="#000" stroke-width="4.5" stroke-linecap="butt"/>
<line x1="1372.9" y1="1152.9" x2="1372.9" y2="1158.2" stroke="#000" stroke-width="4.5" stroke-linecap="butt"/>
<line x1="1484.9" y1="1152.9" x2="1484.9" y2="1158.2" stroke="#000" stroke-width="4.5" stroke-linecap="butt"/>
<line x1="1596.9" y1="1152.9" x2="1596.9" y2="1158.2" stroke="#000" stroke-width="4.5" stroke-linecap="butt"/>
<text x="1017.8" y="1163.3" font-size="41.5" font-weight="bold" fill="#000" text-anchor="end" textLength="74.4" lengthAdjust="spacingAndGlyphs">-1.5</text>
<text x="1017.8" y="1080.3" font-size="41.5" font-weight="bold" fill="#000" text-anchor="end" textLength="74.4" lengthAdjust="spacingAndGlyphs">-1.0</text>
<text x="1017.8" y="997.3" font-size="41.5" font-weight="bold" fill="#000" text-anchor="end" textLength="74.4" lengthAdjust="spacingAndGlyphs">-0.5</text>
<text x="1017.8" y="914.4" font-size="41.5" font-weight="bold" fill="#000" text-anchor="end" textLength="60" lengthAdjust="spacingAndGlyphs">0.0</text>
<text x="1017.8" y="831.4" font-size="41.5" font-weight="bold" fill="#000" text-anchor="end" textLength="60" lengthAdjust="spacingAndGlyphs">0.5</text>
<text x="1017.8" y="748.4" font-size="41.5" font-weight="bold" fill="#000" text-anchor="end" textLength="60" lengthAdjust="spacingAndGlyphs">1.0</text>
<text x="1017.8" y="665.4" font-size="41.5" font-weight="bold" fill="#000" text-anchor="end" textLength="60" lengthAdjust="spacingAndGlyphs">1.5</text>
<text x="1092.9" y="1202.9" font-size="41.5" font-weight="bold" fill="#000" text-anchor="middle" textLength="74.4" lengthAdjust="spacingAndGlyphs">-1.0</text>
<text x="1204.9" y="1202.9" font-size="41.5" font-weight="bold" fill="#000" text-anchor="middle" textLength="74.4" lengthAdjust="spacingAndGlyphs">-0.8</text>
<text x="1316.9" y="1202.9" font-size="41.5" font-weight="bold" fill="#000" text-anchor="middle" textLength="74.4" lengthAdjust="spacingAndGlyphs">-0.6</text>
<text x="1428.9" y="1202.9" font-size="41.5" font-weight="bold" fill="#000" text-anchor="middle" textLength="74.4" lengthAdjust="spacingAndGlyphs">-0.4</text>
<text x="1540.9" y="1202.9" font-size="41.5" font-weight="bold" fill="#000" text-anchor="middle" textLength="74.4" lengthAdjust="spacingAndGlyphs">-0.2</text>
<text x="1652.9" y="1202.9" font-size="41.5" font-weight="bold" fill="#000" text-anchor="middle" textLength="60" lengthAdjust="spacingAndGlyphs">0.0</text>
<text x="1041" y="694.2" font-size="39.6" font-weight="bold" fill="#000" text-anchor="start" textLength="56.6" lengthAdjust="spacingAndGlyphs">(d)</text>
<text x="1498.5" y="831.2" font-size="30" font-weight="bold" fill="#000" text-anchor="start" textLength="122" lengthAdjust="spacingAndGlyphs">b1=0.71</text>
<text x="1498.5" y="872.4" font-size="30" font-weight="bold" fill="#000" text-anchor="start" textLength="122" lengthAdjust="spacingAndGlyphs">b2=0.64</text>
<text x="1498.5" y="913.6" font-size="30" font-weight="bold" fill="#000" text-anchor="start" textLength="129.9" lengthAdjust="spacingAndGlyphs">b1'=0.61</text>
<text x="1498.5" y="954.8" font-size="30" font-weight="bold" fill="#000" text-anchor="start" textLength="129.9" lengthAdjust="spacingAndGlyphs">b2'=0.74</text>
<rect x="1054.0" y="1072.8" width="21.5" height="17.8" fill="#000000"/>
<circle cx="1261.9" cy="1080.8" r="11.6" fill="#ff0000"/>
<polygon points="1050.3,1129.8 1079.3,1129.8 1064.8,1107.4" fill="#00ff00"/>
<polygon points="1246.4,1113.9 1275.0,1113.9 1260.7,1136.3" fill="#0000ff"/>
<text x="1105.5" y="1090.5" font-size="31" font-weight="bold" fill="#000" text-anchor="start" textLength="93.2" lengthAdjust="spacingAndGlyphs">peak1</text>
<text x="1302.5" y="1090.5" font-size="31" font-weight="bold" fill="#000" text-anchor="start" textLength="102.3" lengthAdjust="spacingAndGlyphs">peak 2</text>
<text x="1105.5" y="1129.8" font-size="31" font-weight="bold" fill="#000" text-anchor="start" textLength="110.1" lengthAdjust="spacingAndGlyphs">peak 1'</text>
<text x="1302.5" y="1129.8" font-size="31" font-weight="bold" fill="#000" text-anchor="start" textLength="110.1" lengthAdjust="spacingAndGlyphs">peak 2'</text>
<text transform="translate(921.9 1026.0) scale(1.050 1) rotate(-90)" font-size="43.5" font-weight="bold" fill="#000" style="white-space:pre">log (i, mA)</text>
<text x="1225" y="1248.3" font-size="39" font-weight="bold" textLength="298" lengthAdjust="spacingAndGlyphs">log <tspan font-weight="normal">(</tspan><tspan font-family="Liberation Serif" font-style="italic" font-weight="normal">&#957;</tspan>, mV S<tspan font-size="24" font-weight="normal" dy="-15">-1</tspan><tspan dy="15" font-weight="normal"> )</tspan></text>
<path d="M145.8,1640.5 C146.8,1636.7 149.3,1623.8 151.5,1617.4 C153.7,1611 156,1606.5 159.2,1602 C162.4,1597.5 164.4,1595 170.8,1590.5 C177.2,1586 186.8,1579.9 197.7,1575.1 C208.6,1570.3 223.4,1565.8 236.2,1561.6 C249,1557.4 261.8,1553.6 274.6,1550.1 C287.4,1546.6 300.3,1543.4 313.1,1540.5 C325.9,1537.6 340.3,1535.7 351.5,1532.8 C362.7,1529.9 370.8,1527 380.4,1523.2 C390,1519.4 401.2,1513.9 409.2,1509.7 C417.2,1505.5 420.5,1502.7 428.5,1497.8 C436.5,1492.9 448.7,1486.3 457.3,1480.5 C465.9,1474.7 473,1467.7 480,1463.2 C487,1458.7 492.8,1455.9 499.2,1453.5 C505.6,1451.1 508.9,1450.3 518.5,1448.7 C528.1,1447.1 544.1,1445.3 556.9,1443.9 C569.7,1442.5 581,1441.9 595.4,1440.1 C609.8,1438.3 630.7,1435.7 643.5,1433.3 C656.3,1430.9 664.3,1428.4 672.3,1425.7 C680.3,1423 684.5,1420.9 691.5,1416.9 C698.5,1412.9 708.2,1407.6 714.6,1401.5 C721,1395.4 725.8,1388.4 730,1380.4 C734.2,1372.4 737,1362.5 739.6,1353.5 C742.2,1344.5 744,1334.4 745.4,1326.5 C746.8,1318.6 747.8,1309.7 748.3,1306.3" fill="none" stroke="#000000" stroke-width="6" stroke-linejoin="round" stroke-linecap="butt"/>
<path d="M144.8,1392 C145.9,1397.1 148.4,1414.8 151.5,1422.8 C154.6,1430.8 157,1434.6 163.1,1440.1 C169.2,1445.5 177.5,1451 188.1,1455.5 C198.7,1460 212.1,1463.8 226.5,1467 C240.9,1470.2 260.2,1472.1 274.6,1474.7 C289,1477.3 301.9,1479.8 313.1,1482.4 C324.3,1485 332.3,1487.5 341.9,1490.1 C351.5,1492.7 362.8,1494.9 370.8,1497.8 C378.8,1500.7 383.6,1504.1 390,1507.4 C396.4,1510.7 401.2,1512.5 409.2,1517.4 C417.2,1522.3 428.5,1530.5 438.1,1536.6 C447.7,1542.7 458.2,1549.9 466.9,1553.9 C475.5,1557.9 481.4,1557.6 490,1560.5 C498.6,1563.4 507.4,1567.5 518.5,1571.2 C529.6,1574.9 544.1,1578.6 556.9,1582.8 C569.7,1587 579.4,1591.5 595.4,1596.2 C611.4,1600.9 638.7,1606.7 653.1,1611 C667.5,1615.3 674.2,1618.4 681.9,1622.1 C689.5,1625.8 694.1,1629 699,1633 C703.9,1637 707.3,1640.9 711,1646 C714.7,1651.1 718.3,1657.4 721,1663.5 C723.7,1669.6 725.3,1675.3 727,1682.7 C728.7,1690.1 729.8,1699.7 731,1707.7 C732.2,1715.7 733.3,1723.6 734,1730.8 C734.7,1738 734.8,1747.6 735,1751" fill="none" stroke="#000000" stroke-width="6" stroke-linejoin="round" stroke-linecap="butt"/>
<path d="M145.8,1638.5 C146.8,1634.7 149.3,1621.8 151.5,1615.4 C153.7,1609 156,1604.5 159.2,1600 C162.4,1595.5 164.4,1593 170.8,1588.5 C177.2,1584 186.8,1577.9 197.7,1573.1 C208.6,1568.3 223.4,1563.8 236.2,1559.6 C249,1555.4 261.8,1551.6 274.6,1548.1 C287.4,1544.6 300.3,1541.4 313.1,1538.5 C325.9,1535.6 340.3,1533.7 351.5,1530.8 C362.7,1527.9 370.8,1525 380.4,1521.2 C390,1517.4 401.2,1511.9 409.2,1507.7 C417.2,1503.5 420.5,1500.7 428.5,1495.8 C436.5,1490.9 448.7,1484.3 457.3,1478.5 C465.9,1472.7 473,1465.7 480,1461.2 C487,1456.7 492.8,1453.9 499.2,1451.5 C505.6,1449.1 508.9,1448.3 518.5,1446.7 C528.1,1445.1 544.1,1443.3 556.9,1441.9 C569.7,1440.5 581,1439.9 595.4,1438.1 C609.8,1436.3 630.7,1433.7 643.5,1431.3 C656.3,1428.9 664.3,1426.7 672.3,1423.7 C680.3,1420.7 685.1,1417.4 691.5,1413.1 C697.9,1408.8 705.3,1403.8 710.8,1397.7 C716.2,1391.6 720.7,1384.2 724.2,1376.5 C727.7,1368.8 729.6,1360.2 731.9,1351.5 C734.1,1342.8 736.4,1332.1 737.7,1324.6 C739,1317.1 739.3,1309.3 739.6,1306.3" fill="none" stroke="#ff0000" stroke-width="6" stroke-linejoin="round" stroke-linecap="butt"/>
<path d="M144.8,1390 C145.9,1395.1 148.4,1412.8 151.5,1420.8 C154.6,1428.8 157,1432.6 163.1,1438.1 C169.2,1443.5 177.5,1449 188.1,1453.5 C198.7,1458 212.1,1461.8 226.5,1465 C240.9,1468.2 260.2,1470.1 274.6,1472.7 C289,1475.3 301.9,1477.8 313.1,1480.4 C324.3,1483 332.3,1485.5 341.9,1488.1 C351.5,1490.7 362.8,1492.9 370.8,1495.8 C378.8,1498.7 383.6,1502.1 390,1505.4 C396.4,1508.7 401.2,1510.5 409.2,1515.4 C417.2,1520.3 428.5,1528.5 438.1,1534.6 C447.7,1540.7 458.2,1547.9 466.9,1551.9 C475.5,1555.9 481.4,1555.6 490,1558.5 C498.6,1561.4 507.4,1565.5 518.5,1569.2 C529.6,1572.9 544.1,1576.6 556.9,1580.8 C569.7,1585 582.6,1590 595.4,1594.2 C608.2,1598.4 621,1601.3 633.8,1605.8 C646.6,1610.3 662.7,1616.7 672.3,1621.2 C681.9,1625.7 685.7,1628.5 691.5,1632.7 C697.3,1636.9 702.7,1641.1 706.9,1646.2 C711.1,1651.3 713.9,1657.4 716.5,1663.5 C719.1,1669.6 720.7,1675.3 722.3,1682.7 C723.9,1690.1 725.1,1699.7 726.2,1707.7 C727.3,1715.7 728.4,1723.6 729,1730.8 C729.6,1738 729.8,1747.6 730,1751" fill="none" stroke="#ff0000" stroke-width="6" stroke-linejoin="round" stroke-linecap="butt"/>
<path d="M145.8,1715.4 C146,1708.4 146.2,1686.6 146.7,1673.1 C147.2,1659.6 147.6,1645.5 148.7,1634.6 C149.8,1623.7 151.1,1616 153.5,1607.7 C155.9,1599.4 158.9,1590.7 163.1,1584.6 C167.3,1578.5 171.1,1576 178.5,1571.2 C185.9,1566.4 197.7,1560 207.3,1555.8 C216.9,1551.6 225,1549.6 236.2,1546.2 C247.4,1542.8 261.8,1538.8 274.6,1535.6 C287.4,1532.4 300.3,1529.5 313.1,1526.9 C325.9,1524.3 340.3,1522.4 351.5,1520.2 C362.7,1518 370.8,1516.9 380.4,1513.5 C390,1510.1 401.8,1503.6 409.2,1500 C416.6,1496.4 418.2,1497.4 424.6,1491.9 C431,1486.4 440.6,1474 447.7,1466.9 C454.8,1459.9 461.5,1453.8 466.9,1449.6 C472.3,1445.4 474.6,1444.3 480,1441.9 C485.4,1439.5 489.6,1436.8 499.2,1435.2 C508.8,1433.6 524.9,1433.3 537.7,1432.3 C550.5,1431.3 563.4,1430.8 576.2,1429.4 C589,1428 603.4,1426.1 614.6,1423.7 C625.8,1421.3 635.5,1418.7 643.5,1415 C651.5,1411.3 657.2,1407 662.7,1401.5 C668.2,1396 672.7,1389 676.2,1382.3 C679.7,1375.6 681.6,1368.6 683.8,1361.2 C686,1353.8 688,1345.2 689.6,1338.1 C691.2,1331 692.7,1324.1 693.5,1318.8 C694.3,1313.5 694.2,1308.4 694.4,1306.3" fill="none" stroke="#00ff00" stroke-width="6" stroke-linejoin="round" stroke-linecap="butt"/>
<path d="M144.8,1345.8 C145.3,1352.5 145.9,1375 147.7,1386.2 C149.5,1397.4 151.9,1405.7 155.4,1413.1 C158.9,1420.5 161.8,1424.6 168.8,1430.4 C175.9,1436.2 186.5,1443.2 197.7,1447.7 C208.9,1452.2 221.8,1454.7 236.2,1457.3 C250.6,1459.9 269.8,1460.5 284.2,1463.1 C298.6,1465.7 313.1,1469.2 322.7,1472.7 C332.3,1476.2 335.5,1479.4 341.9,1484.2 C348.3,1489 354.8,1495.7 361.2,1501.5 C367.6,1507.3 374,1513.4 380.4,1519.2 C386.8,1525 391.6,1531.4 399.6,1536.5 C407.6,1541.6 418.9,1546.5 428.5,1550 C438.1,1553.5 448.7,1555.5 457.3,1557.7 C465.9,1560 469.8,1560.8 480,1563.5 C490.2,1566.2 505.7,1570.2 518.5,1574 C531.3,1577.8 544.1,1582.2 556.9,1586.5 C569.7,1590.8 584.2,1595.8 595.4,1600 C606.6,1604.2 616.2,1607.3 624.2,1611.5 C632.2,1615.7 638,1619.5 643.5,1625 C649,1630.5 653.4,1636.8 656.9,1644.2 C660.4,1651.6 662.5,1659.6 664.6,1669.2 C666.7,1678.8 668.1,1691.6 669.4,1701.9 C670.7,1712.2 671.6,1722.6 672.3,1730.8 C672.9,1739 673.1,1747.6 673.3,1751" fill="none" stroke="#00ff00" stroke-width="6" stroke-linejoin="round" stroke-linecap="butt"/>
<path d="M145.8,1605.8 C146.1,1601 146.8,1586.5 147.7,1576.9 C148.6,1567.3 149.6,1557.6 151.5,1548.1 C153.4,1538.6 156,1527 159.2,1520 C162.4,1513 167.3,1509.2 170.8,1505.8 C174.3,1502.4 175.5,1502.6 180,1499.8 C184.5,1497 191.7,1492.6 197.6,1489.2 C203.5,1485.8 209.3,1482.5 215.2,1479.6 C221,1476.7 226.8,1474.8 232.7,1471.6 C238.5,1468.4 244.4,1465.5 250.3,1460.2 C256.2,1454.9 263.2,1445.3 267.9,1440 C272.6,1434.7 273.2,1434 278.5,1428.5 C283.8,1423 292.2,1412.3 299.6,1407.3 C307,1402.3 312.4,1401.1 322.7,1398.7 C333,1396.3 351.6,1394.3 361.2,1392.9 C370.8,1391.5 373.6,1391.4 380,1390.2 C386.4,1389 393.2,1387.2 399.8,1385.6 C406.4,1383.9 413,1382.7 419.6,1380.3 C426.2,1377.9 433.8,1374.1 439.3,1371.1 C444.8,1368.1 448.1,1366.1 452.5,1362.5 C456.9,1358.9 462.1,1354.2 465.7,1349.3 C469.3,1344.3 471.8,1338.3 474.3,1332.8 C476.8,1327.3 479,1320.9 480.9,1316.4 C482.8,1311.9 484.7,1307.6 485.5,1305.8" fill="none" stroke="#0000ff" stroke-width="6" stroke-linejoin="round" stroke-linecap="butt"/>
<path d="M144.8,1403.5 C145.6,1407 147.6,1418.2 149.6,1424.6 C151.6,1431 154.1,1436.9 157,1442 C159.9,1447.1 163.2,1451.2 167,1455 C170.8,1458.8 175.6,1461.7 180,1464.6 C184.4,1467.5 187.3,1469.9 193.2,1472.5 C199.1,1475.1 208.6,1478.2 215.2,1480.4 C221.8,1482.6 226.8,1483.4 232.7,1485.7 C238.5,1488 244.4,1491.3 250.3,1494.5 C256.2,1497.7 262,1501.3 267.9,1505.1 C273.8,1508.9 280.4,1513.6 285.5,1517.4 C290.6,1521.2 294.3,1523.7 298.7,1527.9 C303.1,1532.2 307.5,1537.6 311.9,1542.9 C316.3,1548.2 318.5,1553.4 325.1,1560 C331.7,1566.6 340.7,1575.4 351.5,1582.7 C362.3,1590 378.8,1597.7 390,1603.8 C401.2,1609.9 409.2,1612.8 418.8,1619.2 C428.4,1625.6 439.7,1634.9 447.7,1642.3 C455.7,1649.7 461.4,1656.2 466.9,1663.5 C472.3,1670.8 476.9,1678 480.4,1686 C483.9,1694 485.8,1704.2 487.7,1711.5 C489.6,1718.8 490.5,1723.4 491.5,1730 C492.5,1736.6 493.2,1747.5 493.5,1751" fill="none" stroke="#0000ff" stroke-width="6" stroke-linejoin="round" stroke-linecap="butt"/>
<path d="M145.8,1542.3 C146.3,1538.5 147.8,1526 148.7,1519.2 C149.6,1512.4 149.8,1509.2 151.5,1501.5 C153.2,1493.8 156.3,1483 159.2,1472.7 C162.1,1462.5 165.6,1448.7 168.8,1440 C172,1431.3 174.3,1426.9 178.5,1420.8 C182.7,1414.7 187.4,1408.3 193.8,1403.5 C200.2,1398.7 208.2,1395.4 216.9,1391.9 C225.6,1388.4 236.2,1386.2 245.8,1382.3 C255.4,1378.4 266.6,1373.6 274.6,1368.8 C282.6,1364 288.4,1359.3 293.8,1353.5 C299.2,1347.7 303.8,1340 307.3,1334.2 C310.8,1328.4 312.8,1323.6 315,1318.8 C317.2,1314 319.8,1307.6 320.8,1305.4" fill="none" stroke="#800000" stroke-width="6" stroke-linejoin="round" stroke-linecap="butt"/>
<path d="M145.8,1453.5 C146.8,1456.7 148.6,1466 151.5,1472.7 C154.4,1479.4 157,1486.7 163.1,1493.8 C169.2,1500.9 179.8,1508 188.1,1515.4 C196.4,1522.9 206.7,1531.5 213.1,1538.5 C219.5,1545.5 222,1549.7 226.5,1557.7 C231,1565.7 234.6,1576.9 240,1586.5 C245.4,1596.1 252.5,1605.1 259.2,1615.4 C265.9,1625.7 274.6,1639.1 280.4,1648.1 C286.2,1657.1 289.9,1661.8 293.8,1669.2 C297.7,1676.6 300.6,1684.3 303.5,1692.3 C306.4,1700.3 308.6,1707.5 311.2,1717.3 C313.8,1727.1 317.5,1745.4 318.8,1751" fill="none" stroke="#800000" stroke-width="6" stroke-linejoin="round" stroke-linecap="butt"/>
<rect x="144.3" y="1268.2" width="685.6" height="485.3" fill="none" stroke="#000" stroke-width="5.5"/>
<line x1="133.1" y1="1753.5" x2="144.3" y2="1753.5" stroke="#000" stroke-width="4.5" stroke-linecap="butt"/>
<line x1="133.1" y1="1678.8" x2="144.3" y2="1678.8" stroke="#000" stroke-width="4.5" stroke-linecap="butt"/>
<line x1="133.1" y1="1604.2" x2="144.3" y2="1604.2" stroke="#000" stroke-width="4.5" stroke-linecap="butt"/>
<line x1="133.1" y1="1529.5" x2="144.3" y2="1529.5" stroke="#000" stroke-width="4.5" stroke-linecap="butt"/>
<line x1="133.1" y1="1454.8" x2="144.3" y2="1454.8" stroke="#000" stroke-width="4.5" stroke-linecap="butt"/>
<line x1="133.1" y1="1380.2" x2="144.3" y2="1380.2" stroke="#000" stroke-width="4.5" stroke-linecap="butt"/>
<line x1="133.1" y1="1305.5" x2="144.3" y2="1305.5" stroke="#000" stroke-width="4.5" stroke-linecap="butt"/>
<line x1="138.1" y1="1716.2" x2="144.3" y2="1716.2" stroke="#000" stroke-width="4.5" stroke-linecap="butt"/>
<line x1="138.1" y1="1641.5" x2="144.3" y2="1641.5" stroke="#000" stroke-width="4.5" stroke-linecap="butt"/>
<line x1="138.1" y1="1566.8" x2="144.3" y2="1566.8" stroke="#000" stroke-width="4.5" stroke-linecap="butt"/>
<line x1="138.1" y1="1492.2" x2="144.3" y2="1492.2" stroke="#000" stroke-width="4.5" stroke-linecap="butt"/>
<line x1="138.1" y1="1417.5" x2="144.3" y2="1417.5" stroke="#000" stroke-width="4.5" stroke-linecap="butt"/>
<line x1="138.1" y1="1342.8" x2="144.3" y2="1342.8" stroke="#000" stroke-width="4.5" stroke-linecap="butt"/>
<line x1="138.1" y1="1268.1" x2="144.3" y2="1268.1" stroke="#000" stroke-width="4.5" stroke-linecap="butt"/>
<line x1="144.9" y1="1753.5" x2="144.9" y2="1762.2" stroke="#000" stroke-width="4.5" stroke-linecap="butt"/>
<line x1="236.2" y1="1753.5" x2="236.2" y2="1762.2" stroke="#000" stroke-width="4.5" stroke-linecap="butt"/>
<line x1="327.5" y1="1753.5" x2="327.5" y2="1762.2" stroke="#000" stroke-width="4.5" stroke-linecap="butt"/>
<line x1="418.8" y1="1753.5" x2="418.8" y2="1762.2" stroke="#000" stroke-width="4.5" stroke-linecap="butt"/>
<line x1="510.1" y1="1753.5" x2="510.1" y2="1762.2" stroke="#000" stroke-width="4.5" stroke-linecap="butt"/>
<line x1="601.4" y1="1753.5" x2="601.4" y2="1762.2" stroke="#000" stroke-width="4.5" stroke-linecap="butt"/>
<line x1="692.7" y1="1753.5" x2="692.7" y2="1762.2" stroke="#000" stroke-width="4.5" stroke-linecap="butt"/>
<line x1="784" y1="1753.5" x2="784" y2="1762.2" stroke="#000" stroke-width="4.5" stroke-linecap="butt"/>
<line x1="190.6" y1="1753.5" x2="190.6" y2="1758.8" stroke="#000" stroke-width="4.5" stroke-linecap="butt"/>
<line x1="281.9" y1="1753.5" x2="281.9" y2="1758.8" stroke="#000" stroke-width="4.5" stroke-linecap="butt"/>
<line x1="373.2" y1="1753.5" x2="373.2" y2="1758.8" stroke="#000" stroke-width="4.5" stroke-linecap="butt"/>
<line x1="464.5" y1="1753.5" x2="464.5" y2="1758.8" stroke="#000" stroke-width="4.5" stroke-linecap="butt"/>
<line x1="555.8" y1="1753.5" x2="555.8" y2="1758.8" stroke="#000" stroke-width="4.5" stroke-linecap="butt"/>
<line x1="647.1" y1="1753.5" x2="647.1" y2="1758.8" stroke="#000" stroke-width="4.5" stroke-linecap="butt"/>
<line x1="738.4" y1="1753.5" x2="738.4" y2="1758.8" stroke="#000" stroke-width="4.5" stroke-linecap="butt"/>
<line x1="829.7" y1="1753.5" x2="829.7" y2="1758.8" stroke="#000" stroke-width="4.5" stroke-linecap="butt"/>
<text x="121.7" y="1762.9" font-size="37" font-weight="bold" fill="#000" text-anchor="end">1.5</text>
<text x="121.7" y="1688.2" font-size="37" font-weight="bold" fill="#000" text-anchor="end">1.6</text>
<text x="121.7" y="1613.6" font-size="37" font-weight="bold" fill="#000" text-anchor="end">1.7</text>
<text x="121.7" y="1538.9" font-size="37" font-weight="bold" fill="#000" text-anchor="end">1.8</text>
<text x="121.7" y="1464.2" font-size="37" font-weight="bold" fill="#000" text-anchor="end">1.9</text>
<text x="121.7" y="1389.6" font-size="37" font-weight="bold" fill="#000" text-anchor="end">2.0</text>
<text x="121.7" y="1314.9" font-size="37" font-weight="bold" fill="#000" text-anchor="end">2.1</text>
<text x="144.9" y="1796" font-size="37.5" font-weight="bold" fill="#000" text-anchor="middle" textLength="22.3" lengthAdjust="spacingAndGlyphs">0</text>
<text x="236.2" y="1796" font-size="37.5" font-weight="bold" fill="#000" text-anchor="middle" textLength="44.6" lengthAdjust="spacingAndGlyphs">20</text>
<text x="327.5" y="1796" font-size="37.5" font-weight="bold" fill="#000" text-anchor="middle" textLength="44.6" lengthAdjust="spacingAndGlyphs">40</text>
<text x="418.8" y="1796" font-size="37.5" font-weight="bold" fill="#000" text-anchor="middle" textLength="44.6" lengthAdjust="spacingAndGlyphs">60</text>
<text x="510.1" y="1796" font-size="37.5" font-weight="bold" fill="#000" text-anchor="middle" textLength="44.6" lengthAdjust="spacingAndGlyphs">80</text>
<text x="601.4" y="1796" font-size="37.5" font-weight="bold" fill="#000" text-anchor="middle" textLength="66.9" lengthAdjust="spacingAndGlyphs">100</text>
<text x="692.7" y="1796" font-size="37.5" font-weight="bold" fill="#000" text-anchor="middle" textLength="66.9" lengthAdjust="spacingAndGlyphs">120</text>
<text x="784" y="1796" font-size="37.5" font-weight="bold" fill="#000" text-anchor="middle" textLength="66.9" lengthAdjust="spacingAndGlyphs">140</text>
<text x="151" y="1314.3" font-size="47.3" font-weight="bold" fill="#000" text-anchor="start" textLength="65.3" lengthAdjust="spacingAndGlyphs">(e)</text>
<line x1="665.3" y1="1452.6" x2="736.5" y2="1452.6" stroke="#000000" stroke-width="6" stroke-linecap="butt"/>
<text x="745.5" y="1462.1" font-size="27.5" font-weight="bold" fill="#000" text-anchor="start" textLength="47.1" lengthAdjust="spacingAndGlyphs">1 C</text>
<line x1="665.3" y1="1487.2" x2="736.5" y2="1487.2" stroke="#ff0000" stroke-width="6" stroke-linecap="butt"/>
<text x="745.5" y="1496.7" font-size="27.5" font-weight="bold" fill="#000" text-anchor="start" textLength="47.1" lengthAdjust="spacingAndGlyphs">2 C</text>
<line x1="665.3" y1="1521.8" x2="736.5" y2="1521.8" stroke="#00ff00" stroke-width="6" stroke-linecap="butt"/>
<text x="745.5" y="1531.3" font-size="27.5" font-weight="bold" fill="#000" text-anchor="start" textLength="47.1" lengthAdjust="spacingAndGlyphs">5 C</text>
<line x1="665.3" y1="1556.4" x2="736.5" y2="1556.4" stroke="#0000ff" stroke-width="6" stroke-linecap="butt"/>
<text x="745.5" y="1565.9" font-size="27.5" font-weight="bold" fill="#000" text-anchor="start" textLength="63.9" lengthAdjust="spacingAndGlyphs">10 C</text>
<line x1="665.3" y1="1591" x2="736.5" y2="1591" stroke="#800000" stroke-width="6" stroke-linecap="butt"/>
<text x="745.5" y="1600.5" font-size="27.5" font-weight="bold" fill="#000" text-anchor="start" textLength="63.9" lengthAdjust="spacingAndGlyphs">20 C</text>
<text x="198.8" y="1846.5" font-size="33" font-weight="bold" textLength="525" lengthAdjust="spacingAndGlyphs">Specific Capacity <tspan font-weight="normal">(</tspan>mAh g<tspan font-size="24" dy="-15.5">-1</tspan><tspan dy="15.5" font-weight="normal">)</tspan></text>
<text transform="translate(38.7 1599.4) scale(1.130 1) rotate(-90)" font-size="37.3" font-weight="bold" fill="#000" style="white-space:pre">Voltage (V)</text>
<g fill="#fff" stroke="#ff0000" stroke-width="5"><circle cx="1031.0" cy="1379.5" r="4.5"/><circle cx="1038.0" cy="1380.0" r="4.5"/><circle cx="1045.0" cy="1380.5" r="4.5"/><circle cx="1052.0" cy="1380.9" r="4.5"/><circle cx="1059.0" cy="1381.4" r="4.5"/><circle cx="1066.0" cy="1381.9" r="4.5"/><circle cx="1073.0" cy="1382.4" r="4.5"/><circle cx="1080.0" cy="1382.9" r="4.5"/><circle cx="1087.0" cy="1383.4" r="4.5"/><circle cx="1094.0" cy="1384.0" r="4.5"/><circle cx="1101.0" cy="1384.6" r="4.5"/><circle cx="1108.0" cy="1385.2" r="4.5"/><circle cx="1115.0" cy="1385.8" r="4.5"/><circle cx="1122.0" cy="1386.4" r="4.5"/><circle cx="1129.0" cy="1387.1" r="4.5"/><circle cx="1136.0" cy="1387.7" r="4.5"/><circle cx="1143.0" cy="1388.5" r="4.5"/><circle cx="1150.0" cy="1389.8" r="4.5"/><circle cx="1157.0" cy="1391.1" r="4.5"/><circle cx="1164.0" cy="1392.4" r="4.5"/><circle cx="1171.0" cy="1393.7" r="4.5"/><circle cx="1178.0" cy="1394.8" r="4.5"/><circle cx="1185.0" cy="1395.9" r="4.5"/><circle cx="1192.0" cy="1397.0" r="4.5"/><circle cx="1199.0" cy="1397.9" r="4.5"/><circle cx="1206.0" cy="1397.7" r="4.5"/><circle cx="1213.0" cy="1397.5" r="4.5"/><circle cx="1220.0" cy="1397.3" r="4.5"/><circle cx="1227.0" cy="1397.1" r="4.5"/><circle cx="1234.0" cy="1397.0" r="4.5"/><circle cx="1241.0" cy="1397.6" r="4.5"/><circle cx="1248.0" cy="1398.6" r="4.5"/><circle cx="1255.0" cy="1399.7" r="4.5"/><circle cx="1262.0" cy="1400.3" r="4.5"/><circle cx="1269.0" cy="1400.8" r="4.5"/><circle cx="1276.0" cy="1401.3" r="4.5"/><circle cx="1283.0" cy="1401.9" r="4.5"/><circle cx="1290.0" cy="1402.4" r="4.5"/><circle cx="1297.0" cy="1403.4" r="4.5"/><circle cx="1304.0" cy="1405.1" r="4.5"/><circle cx="1311.0" cy="1406.9" r="4.5"/><circle cx="1318.0" cy="1408.3" r="4.5"/><circle cx="1325.0" cy="1409.5" r="4.5"/><circle cx="1332.0" cy="1410.7" r="4.5"/><circle cx="1339.0" cy="1411.9" r="4.5"/><circle cx="1346.0" cy="1413.2" r="4.5"/><circle cx="1353.0" cy="1414.6" r="4.5"/><circle cx="1360.0" cy="1416.9" r="4.5"/><circle cx="1367.0" cy="1418.3" r="4.5"/><circle cx="1374.0" cy="1419.7" r="4.5"/><circle cx="1381.0" cy="1421.2" r="4.5"/><circle cx="1388.0" cy="1422.8" r="4.5"/><circle cx="1395.0" cy="1424.4" r="4.5"/><circle cx="1402.0" cy="1425.9" r="4.5"/><circle cx="1409.0" cy="1427.3" r="4.5"/><circle cx="1416.0" cy="1429.0" r="4.5"/><circle cx="1423.0" cy="1431.4" r="4.5"/><circle cx="1430.0" cy="1433.7" r="4.5"/><circle cx="1437.0" cy="1436.0" r="4.5"/><circle cx="1444.0" cy="1439.0" r="4.5"/><circle cx="1451.0" cy="1442.3" r="4.5"/><circle cx="1458.0" cy="1442.3" r="4.5"/><circle cx="1465.0" cy="1443.1" r="4.5"/><circle cx="1472.0" cy="1445.6" r="4.5"/><circle cx="1479.0" cy="1447.4" r="4.5"/><circle cx="1486.0" cy="1448.8" r="4.5"/><circle cx="1493.0" cy="1449.7" r="4.5"/><circle cx="1500.0" cy="1450.4" r="4.5"/><circle cx="1507.0" cy="1451.1" r="4.5"/><circle cx="1514.0" cy="1451.8" r="4.5"/><circle cx="1521.0" cy="1452.5" r="4.5"/><circle cx="1528.0" cy="1453.4" r="4.5"/><circle cx="1535.0" cy="1454.3" r="4.5"/><circle cx="1542.0" cy="1453.2" r="4.5"/><circle cx="1549.0" cy="1453.4" r="4.5"/><circle cx="1556.0" cy="1455.1" r="4.5"/><circle cx="1563.0" cy="1455.9" r="4.5"/><circle cx="1570.0" cy="1455.7" r="4.5"/><circle cx="1577.0" cy="1455.5" r="4.5"/><circle cx="1584.0" cy="1455.3" r="4.5"/><circle cx="1591.0" cy="1455.7" r="4.5"/><circle cx="1598.0" cy="1456.4" r="4.5"/><circle cx="1605.0" cy="1457.2" r="4.5"/><circle cx="1612.0" cy="1457.9" r="4.5"/><circle cx="1619.0" cy="1458.6" r="4.5"/><circle cx="1626.0" cy="1458.8" r="4.5"/><circle cx="1633.0" cy="1458.7" r="4.5"/><circle cx="1640.0" cy="1458.5" r="4.5"/><circle cx="1647.0" cy="1458.4" r="4.5"/><circle cx="1654.0" cy="1458.3" r="4.5"/><circle cx="1661.0" cy="1458.0" r="4.5"/><circle cx="1668.0" cy="1457.7" r="4.5"/><circle cx="1675.0" cy="1457.6" r="4.5"/><circle cx="1682.0" cy="1459.3" r="4.5"/><circle cx="1689.0" cy="1461.1" r="4.5"/><circle cx="1696.0" cy="1462.1" r="4.5"/><circle cx="1703.0" cy="1462.7" r="4.5"/><circle cx="1710.0" cy="1463.2" r="4.5"/></g>
<g fill="#fff" stroke="#ff0000" stroke-width="5"><circle cx="1031.0" cy="1516.1" r="4.5"/><circle cx="1038.0" cy="1519.9" r="4.5"/><circle cx="1045.0" cy="1523.7" r="4.5"/><circle cx="1052.0" cy="1523.4" r="4.5"/><circle cx="1059.0" cy="1523.1" r="4.5"/><circle cx="1066.0" cy="1522.9" r="4.5"/><circle cx="1073.0" cy="1527.3" r="4.5"/><circle cx="1080.0" cy="1532.1" r="4.5"/><circle cx="1087.0" cy="1529.2" r="4.5"/><circle cx="1094.0" cy="1529.8" r="4.5"/><circle cx="1101.0" cy="1531.1" r="4.5"/><circle cx="1108.0" cy="1532.5" r="4.5"/><circle cx="1115.0" cy="1533.7" r="4.5"/><circle cx="1122.0" cy="1534.4" r="4.5"/><circle cx="1129.0" cy="1535.1" r="4.5"/><circle cx="1136.0" cy="1535.9" r="4.5"/><circle cx="1143.0" cy="1536.9" r="4.5"/><circle cx="1150.0" cy="1537.1" r="4.5"/><circle cx="1157.0" cy="1535.8" r="4.5"/><circle cx="1164.0" cy="1534.5" r="4.5"/><circle cx="1171.0" cy="1533.8" r="4.5"/><circle cx="1178.0" cy="1533.0" r="4.5"/><circle cx="1185.0" cy="1532.3" r="4.5"/><circle cx="1192.0" cy="1532.1" r="4.5"/><circle cx="1199.0" cy="1536.2" r="4.5"/><circle cx="1206.0" cy="1540.3" r="4.5"/><circle cx="1213.0" cy="1544.4" r="4.5"/><circle cx="1220.0" cy="1546.1" r="4.5"/><circle cx="1227.0" cy="1546.9" r="4.5"/><circle cx="1234.0" cy="1547.4" r="4.5"/><circle cx="1241.0" cy="1547.1" r="4.5"/><circle cx="1248.0" cy="1546.7" r="4.5"/><circle cx="1255.0" cy="1546.6" r="4.5"/><circle cx="1262.0" cy="1547.0" r="4.5"/><circle cx="1269.0" cy="1547.3" r="4.5"/><circle cx="1276.0" cy="1547.0" r="4.5"/><circle cx="1283.0" cy="1546.1" r="4.5"/><circle cx="1290.0" cy="1546.3" r="4.5"/><circle cx="1297.0" cy="1549.3" r="4.5"/><circle cx="1304.0" cy="1552.0" r="4.5"/><circle cx="1311.0" cy="1554.2" r="4.5"/><circle cx="1318.0" cy="1554.1" r="4.5"/><circle cx="1325.0" cy="1553.7" r="4.5"/><circle cx="1332.0" cy="1553.5" r="4.5"/><circle cx="1339.0" cy="1554.5" r="4.5"/><circle cx="1346.0" cy="1555.6" r="4.5"/><circle cx="1353.0" cy="1556.3" r="4.5"/><circle cx="1360.0" cy="1556.0" r="4.5"/><circle cx="1367.0" cy="1555.6" r="4.5"/><circle cx="1374.0" cy="1554.8" r="4.5"/><circle cx="1381.0" cy="1553.4" r="4.5"/><circle cx="1388.0" cy="1553.3" r="4.5"/><circle cx="1395.0" cy="1556.1" r="4.5"/><circle cx="1402.0" cy="1558.9" r="4.5"/><circle cx="1409.0" cy="1559.1" r="4.5"/><circle cx="1416.0" cy="1556.6" r="4.5"/><circle cx="1423.0" cy="1555.3" r="4.5"/><circle cx="1430.0" cy="1555.2" r="4.5"/><circle cx="1437.0" cy="1555.0" r="4.5"/><circle cx="1444.0" cy="1554.9" r="4.5"/><circle cx="1451.0" cy="1554.8" r="4.5"/><circle cx="1458.0" cy="1554.6" r="4.5"/><circle cx="1465.0" cy="1554.5" r="4.5"/><circle cx="1472.0" cy="1557.5" r="4.5"/><circle cx="1479.0" cy="1560.1" r="4.5"/><circle cx="1486.0" cy="1553.8" r="4.5"/><circle cx="1493.0" cy="1550.3" r="4.5"/><circle cx="1500.0" cy="1550.5" r="4.5"/><circle cx="1507.0" cy="1554.6" r="4.5"/><circle cx="1514.0" cy="1555.5" r="4.5"/><circle cx="1521.0" cy="1555.7" r="4.5"/><circle cx="1528.0" cy="1555.9" r="4.5"/><circle cx="1535.0" cy="1556.1" r="4.5"/><circle cx="1542.0" cy="1556.2" r="4.5"/><circle cx="1549.0" cy="1556.4" r="4.5"/><circle cx="1556.0" cy="1556.3" r="4.5"/><circle cx="1563.0" cy="1556.1" r="4.5"/><circle cx="1570.0" cy="1556.0" r="4.5"/><circle cx="1577.0" cy="1555.9" r="4.5"/><circle cx="1584.0" cy="1555.8" r="4.5"/><circle cx="1591.0" cy="1555.7" r="4.5"/><circle cx="1598.0" cy="1555.6" r="4.5"/><circle cx="1605.0" cy="1555.4" r="4.5"/><circle cx="1612.0" cy="1555.7" r="4.5"/><circle cx="1619.0" cy="1556.2" r="4.5"/><circle cx="1626.0" cy="1556.7" r="4.5"/><circle cx="1633.0" cy="1557.1" r="4.5"/><circle cx="1640.0" cy="1556.5" r="4.5"/><circle cx="1647.0" cy="1554.4" r="4.5"/><circle cx="1654.0" cy="1554.4" r="4.5"/><circle cx="1661.0" cy="1554.4" r="4.5"/><circle cx="1668.0" cy="1554.4" r="4.5"/><circle cx="1675.0" cy="1554.4" r="4.5"/><circle cx="1682.0" cy="1554.4" r="4.5"/><circle cx="1689.0" cy="1557.2" r="4.5"/><circle cx="1696.0" cy="1560.2" r="4.5"/><circle cx="1703.0" cy="1561.1" r="4.5"/><circle cx="1710.0" cy="1561.8" r="4.5"/></g>
<g fill="#fff" stroke="#0000ff" stroke-width="5"><circle cx="1031.0" cy="1385.4" r="4.5"/><circle cx="1038.0" cy="1384.9" r="4.5"/><circle cx="1045.0" cy="1384.5" r="4.5"/><circle cx="1052.0" cy="1384.9" r="4.5"/><circle cx="1059.0" cy="1385.2" r="4.5"/><circle cx="1066.0" cy="1386.2" r="4.5"/><circle cx="1073.0" cy="1388.4" r="4.5"/><circle cx="1080.0" cy="1389.1" r="4.5"/><circle cx="1087.0" cy="1389.2" r="4.5"/><circle cx="1094.0" cy="1389.4" r="4.5"/><circle cx="1101.0" cy="1389.5" r="4.5"/><circle cx="1108.0" cy="1389.3" r="4.5"/><circle cx="1115.0" cy="1389.2" r="4.5"/><circle cx="1122.0" cy="1389.1" r="4.5"/><circle cx="1129.0" cy="1388.7" r="4.5"/><circle cx="1136.0" cy="1388.3" r="4.5"/><circle cx="1143.0" cy="1387.7" r="4.5"/><circle cx="1150.0" cy="1387.0" r="4.5"/><circle cx="1157.0" cy="1386.2" r="4.5"/><circle cx="1164.0" cy="1385.3" r="4.5"/><circle cx="1171.0" cy="1384.5" r="4.5"/><circle cx="1178.0" cy="1383.6" r="4.5"/><circle cx="1185.0" cy="1383.6" r="4.5"/><circle cx="1192.0" cy="1383.8" r="4.5"/><circle cx="1199.0" cy="1384.0" r="4.5"/><circle cx="1206.0" cy="1384.1" r="4.5"/><circle cx="1213.0" cy="1384.3" r="4.5"/><circle cx="1220.0" cy="1384.3" r="4.5"/><circle cx="1227.0" cy="1384.1" r="4.5"/><circle cx="1234.0" cy="1383.9" r="4.5"/><circle cx="1241.0" cy="1383.7" r="4.5"/><circle cx="1248.0" cy="1383.6" r="4.5"/><circle cx="1255.0" cy="1384.1" r="4.5"/><circle cx="1262.0" cy="1384.5" r="4.5"/><circle cx="1269.0" cy="1385.0" r="4.5"/><circle cx="1276.0" cy="1385.4" r="4.5"/><circle cx="1283.0" cy="1385.0" r="4.5"/><circle cx="1290.0" cy="1384.7" r="4.5"/><circle cx="1297.0" cy="1384.3" r="4.5"/><circle cx="1304.0" cy="1384.0" r="4.5"/><circle cx="1311.0" cy="1383.6" r="4.5"/><circle cx="1318.0" cy="1383.5" r="4.5"/><circle cx="1325.0" cy="1383.5" r="4.5"/><circle cx="1332.0" cy="1383.5" r="4.5"/><circle cx="1339.0" cy="1383.5" r="4.5"/><circle cx="1346.0" cy="1383.5" r="4.5"/><circle cx="1353.0" cy="1383.5" r="4.5"/><circle cx="1360.0" cy="1383.5" r="4.5"/><circle cx="1367.0" cy="1383.5" r="4.5"/><circle cx="1374.0" cy="1383.5" r="4.5"/><circle cx="1381.0" cy="1383.5" r="4.5"/><circle cx="1388.0" cy="1383.4" r="4.5"/><circle cx="1395.0" cy="1383.4" r="4.5"/><circle cx="1402.0" cy="1383.4" r="4.5"/><circle cx="1409.0" cy="1383.3" r="4.5"/><circle cx="1416.0" cy="1383.3" r="4.5"/><circle cx="1423.0" cy="1383.5" r="4.5"/><circle cx="1430.0" cy="1383.8" r="4.5"/><circle cx="1437.0" cy="1384.2" r="4.5"/><circle cx="1444.0" cy="1384.5" r="4.5"/><circle cx="1451.0" cy="1384.9" r="4.5"/><circle cx="1458.0" cy="1385.3" r="4.5"/><circle cx="1465.0" cy="1382.2" r="4.5"/><circle cx="1472.0" cy="1379.1" r="4.5"/><circle cx="1479.0" cy="1378.0" r="4.5"/><circle cx="1486.0" cy="1379.1" r="4.5"/><circle cx="1493.0" cy="1386.3" r="4.5"/><circle cx="1500.0" cy="1392.5" r="4.5"/><circle cx="1507.0" cy="1390.8" r="4.5"/><circle cx="1514.0" cy="1386.1" r="4.5"/><circle cx="1521.0" cy="1382.4" r="4.5"/><circle cx="1528.0" cy="1380.0" r="4.5"/><circle cx="1535.0" cy="1380.9" r="4.5"/><circle cx="1542.0" cy="1383.3" r="4.5"/><circle cx="1549.0" cy="1382.4" r="4.5"/><circle cx="1556.0" cy="1381.5" r="4.5"/><circle cx="1563.0" cy="1378.2" r="4.5"/><circle cx="1570.0" cy="1376.3" r="4.5"/><circle cx="1577.0" cy="1379.1" r="4.5"/><circle cx="1584.0" cy="1374.2" r="4.5"/><circle cx="1591.0" cy="1372.8" r="4.5"/><circle cx="1598.0" cy="1375.5" r="4.5"/><circle cx="1605.0" cy="1376.2" r="4.5"/><circle cx="1612.0" cy="1376.9" r="4.5"/><circle cx="1619.0" cy="1377.6" r="4.5"/><circle cx="1626.0" cy="1378.6" r="4.5"/><circle cx="1633.0" cy="1379.5" r="4.5"/><circle cx="1640.0" cy="1380.4" r="4.5"/><circle cx="1647.0" cy="1381.2" r="4.5"/><circle cx="1654.0" cy="1377.7" r="4.5"/><circle cx="1661.0" cy="1374.2" r="4.5"/><circle cx="1668.0" cy="1371.5" r="4.5"/><circle cx="1675.0" cy="1372.3" r="4.5"/><circle cx="1682.0" cy="1373.0" r="4.5"/><circle cx="1689.0" cy="1373.0" r="4.5"/><circle cx="1696.0" cy="1372.1" r="4.5"/><circle cx="1703.0" cy="1371.9" r="4.5"/><circle cx="1710.0" cy="1376.6" r="4.5"/></g>
<g fill="#fff" stroke="#0000ff" stroke-width="5"><circle cx="1031.0" cy="1367.0" r="4.5"/><circle cx="1038.0" cy="1367.0" r="4.5"/><circle cx="1045.0" cy="1367.0" r="4.5"/><circle cx="1052.0" cy="1366.9" r="4.5"/><circle cx="1059.0" cy="1366.9" r="4.5"/><circle cx="1066.0" cy="1366.9" r="4.5"/><circle cx="1073.0" cy="1366.9" r="4.5"/><circle cx="1080.0" cy="1366.9" r="4.5"/><circle cx="1087.0" cy="1366.8" r="4.5"/><circle cx="1094.0" cy="1366.8" r="4.5"/><circle cx="1101.0" cy="1366.8" r="4.5"/><circle cx="1108.0" cy="1366.8" r="4.5"/><circle cx="1115.0" cy="1366.8" r="4.5"/><circle cx="1122.0" cy="1366.7" r="4.5"/><circle cx="1129.0" cy="1366.7" r="4.5"/><circle cx="1136.0" cy="1366.7" r="4.5"/><circle cx="1143.0" cy="1366.7" r="4.5"/><circle cx="1150.0" cy="1366.7" r="4.5"/><circle cx="1157.0" cy="1366.6" r="4.5"/><circle cx="1164.0" cy="1366.6" r="4.5"/><circle cx="1171.0" cy="1366.6" r="4.5"/><circle cx="1178.0" cy="1366.6" r="4.5"/><circle cx="1185.0" cy="1366.6" r="4.5"/><circle cx="1192.0" cy="1366.5" r="4.5"/><circle cx="1199.0" cy="1366.5" r="4.5"/><circle cx="1206.0" cy="1366.5" r="4.5"/><circle cx="1213.0" cy="1366.5" r="4.5"/><circle cx="1220.0" cy="1366.5" r="4.5"/><circle cx="1227.0" cy="1366.4" r="4.5"/><circle cx="1234.0" cy="1366.4" r="4.5"/><circle cx="1241.0" cy="1366.4" r="4.5"/><circle cx="1248.0" cy="1366.4" r="4.5"/><circle cx="1255.0" cy="1366.3" r="4.5"/><circle cx="1262.0" cy="1366.3" r="4.5"/><circle cx="1269.0" cy="1366.3" r="4.5"/><circle cx="1276.0" cy="1366.3" r="4.5"/><circle cx="1283.0" cy="1366.3" r="4.5"/><circle cx="1290.0" cy="1366.2" r="4.5"/><circle cx="1297.0" cy="1366.2" r="4.5"/><circle cx="1304.0" cy="1366.2" r="4.5"/><circle cx="1311.0" cy="1366.2" r="4.5"/><circle cx="1318.0" cy="1366.2" r="4.5"/><circle cx="1325.0" cy="1366.1" r="4.5"/><circle cx="1332.0" cy="1366.1" r="4.5"/><circle cx="1339.0" cy="1366.1" r="4.5"/><circle cx="1346.0" cy="1366.1" r="4.5"/><circle cx="1353.0" cy="1366.1" r="4.5"/><circle cx="1360.0" cy="1366.0" r="4.5"/><circle cx="1367.0" cy="1366.0" r="4.5"/><circle cx="1374.0" cy="1366.0" r="4.5"/><circle cx="1381.0" cy="1363.7" r="4.5"/><circle cx="1388.0" cy="1368.0" r="4.5"/><circle cx="1395.0" cy="1366.5" r="4.5"/><circle cx="1402.0" cy="1365.5" r="4.5"/><circle cx="1409.0" cy="1365.3" r="4.5"/><circle cx="1416.0" cy="1365.2" r="4.5"/><circle cx="1423.0" cy="1365.1" r="4.5"/><circle cx="1430.0" cy="1365.0" r="4.5"/><circle cx="1437.0" cy="1364.9" r="4.5"/><circle cx="1444.0" cy="1364.8" r="4.5"/><circle cx="1451.0" cy="1364.6" r="4.5"/><circle cx="1458.0" cy="1364.5" r="4.5"/><circle cx="1465.0" cy="1363.9" r="4.5"/><circle cx="1472.0" cy="1363.2" r="4.5"/><circle cx="1479.0" cy="1362.5" r="4.5"/><circle cx="1486.0" cy="1362.9" r="4.5"/><circle cx="1493.0" cy="1363.2" r="4.5"/><circle cx="1500.0" cy="1363.6" r="4.5"/><circle cx="1507.0" cy="1363.9" r="4.5"/><circle cx="1514.0" cy="1364.3" r="4.5"/><circle cx="1521.0" cy="1364.4" r="4.5"/><circle cx="1528.0" cy="1364.0" r="4.5"/><circle cx="1535.0" cy="1363.7" r="4.5"/><circle cx="1542.0" cy="1363.3" r="4.5"/><circle cx="1549.0" cy="1362.9" r="4.5"/><circle cx="1556.0" cy="1362.6" r="4.5"/><circle cx="1563.0" cy="1362.6" r="4.5"/><circle cx="1570.0" cy="1362.8" r="4.5"/><circle cx="1577.0" cy="1363.0" r="4.5"/><circle cx="1584.0" cy="1363.2" r="4.5"/><circle cx="1591.0" cy="1363.3" r="4.5"/><circle cx="1598.0" cy="1363.5" r="4.5"/><circle cx="1605.0" cy="1363.9" r="4.5"/><circle cx="1612.0" cy="1364.2" r="4.5"/><circle cx="1619.0" cy="1364.6" r="4.5"/><circle cx="1626.0" cy="1364.9" r="4.5"/><circle cx="1633.0" cy="1365.3" r="4.5"/><circle cx="1640.0" cy="1365.5" r="4.5"/><circle cx="1647.0" cy="1365.5" r="4.5"/><circle cx="1654.0" cy="1365.5" r="4.5"/><circle cx="1661.0" cy="1365.5" r="4.5"/><circle cx="1668.0" cy="1365.5" r="4.5"/><circle cx="1675.0" cy="1365.5" r="4.5"/><circle cx="1682.0" cy="1365.5" r="4.5"/><circle cx="1689.0" cy="1365.5" r="4.5"/><circle cx="1696.0" cy="1365.5" r="4.5"/><circle cx="1703.0" cy="1365.5" r="4.5"/><circle cx="1710.0" cy="1365.5" r="4.5"/></g>
<line x1="1028.2" y1="1279.3" x2="1719.6" y2="1279.3" stroke="#000000" stroke-width="5.5" stroke-linecap="square"/>
<line x1="1719.6" y1="1279.3" x2="1719.6" y2="1765.7" stroke="#000000" stroke-width="5.5" stroke-linecap="square"/>
<line x1="1028.2" y1="1765.7" x2="1719.6" y2="1765.7" stroke="#000000" stroke-width="5.5" stroke-linecap="square"/>
<line x1="1028.2" y1="1276.6" x2="1028.2" y2="1765.7" stroke="#ff0000" stroke-width="6" stroke-linecap="butt"/>
<line x1="1018.2" y1="1765.5" x2="1028.2" y2="1765.5" stroke="#ff0000" stroke-width="4.5" stroke-linecap="butt"/>
<line x1="1018.2" y1="1704.6" x2="1028.2" y2="1704.6" stroke="#ff0000" stroke-width="4.5" stroke-linecap="butt"/>
<line x1="1018.2" y1="1643.7" x2="1028.2" y2="1643.7" stroke="#ff0000" stroke-width="4.5" stroke-linecap="butt"/>
<line x1="1018.2" y1="1582.9" x2="1028.2" y2="1582.9" stroke="#ff0000" stroke-width="4.5" stroke-linecap="butt"/>
<line x1="1018.2" y1="1522" x2="1028.2" y2="1522" stroke="#ff0000" stroke-width="4.5" stroke-linecap="butt"/>
<line x1="1018.2" y1="1461.1" x2="1028.2" y2="1461.1" stroke="#ff0000" stroke-width="4.5" stroke-linecap="butt"/>
<line x1="1018.2" y1="1400.2" x2="1028.2" y2="1400.2" stroke="#ff0000" stroke-width="4.5" stroke-linecap="butt"/>
<line x1="1018.2" y1="1339.3" x2="1028.2" y2="1339.3" stroke="#ff0000" stroke-width="4.5" stroke-linecap="butt"/>
<line x1="1018.2" y1="1278.5" x2="1028.2" y2="1278.5" stroke="#ff0000" stroke-width="4.5" stroke-linecap="butt"/>
<line x1="1022.2" y1="1735.1" x2="1028.2" y2="1735.1" stroke="#ff0000" stroke-width="4.5" stroke-linecap="butt"/>
<line x1="1022.2" y1="1674.2" x2="1028.2" y2="1674.2" stroke="#ff0000" stroke-width="4.5" stroke-linecap="butt"/>
<line x1="1022.2" y1="1613.3" x2="1028.2" y2="1613.3" stroke="#ff0000" stroke-width="4.5" stroke-linecap="butt"/>
<line x1="1022.2" y1="1552.4" x2="1028.2" y2="1552.4" stroke="#ff0000" stroke-width="4.5" stroke-linecap="butt"/>
<line x1="1022.2" y1="1491.5" x2="1028.2" y2="1491.5" stroke="#ff0000" stroke-width="4.5" stroke-linecap="butt"/>
<line x1="1022.2" y1="1430.7" x2="1028.2" y2="1430.7" stroke="#ff0000" stroke-width="4.5" stroke-linecap="butt"/>
<line x1="1022.2" y1="1369.8" x2="1028.2" y2="1369.8" stroke="#ff0000" stroke-width="4.5" stroke-linecap="butt"/>
<line x1="1022.2" y1="1308.9" x2="1028.2" y2="1308.9" stroke="#ff0000" stroke-width="4.5" stroke-linecap="butt"/>
<line x1="1719.6" y1="1765.3" x2="1729.3" y2="1765.3" stroke="#000" stroke-width="4.5" stroke-linecap="butt"/>
<line x1="1719.6" y1="1684.4" x2="1729.3" y2="1684.4" stroke="#000" stroke-width="4.5" stroke-linecap="butt"/>
<line x1="1719.6" y1="1603.5" x2="1729.3" y2="1603.5" stroke="#000" stroke-width="4.5" stroke-linecap="butt"/>
<line x1="1719.6" y1="1522.7" x2="1729.3" y2="1522.7" stroke="#000" stroke-width="4.5" stroke-linecap="butt"/>
<line x1="1719.6" y1="1441.8" x2="1729.3" y2="1441.8" stroke="#000" stroke-width="4.5" stroke-linecap="butt"/>
<line x1="1719.6" y1="1360.9" x2="1729.3" y2="1360.9" stroke="#000" stroke-width="4.5" stroke-linecap="butt"/>
<line x1="1719.6" y1="1280" x2="1729.3" y2="1280" stroke="#000" stroke-width="4.5" stroke-linecap="butt"/>
<line x1="1719.6" y1="1724.9" x2="1725.3" y2="1724.9" stroke="#000" stroke-width="4.5" stroke-linecap="butt"/>
<line x1="1719.6" y1="1644" x2="1725.3" y2="1644" stroke="#000" stroke-width="4.5" stroke-linecap="butt"/>
<line x1="1719.6" y1="1563.1" x2="1725.3" y2="1563.1" stroke="#000" stroke-width="4.5" stroke-linecap="butt"/>
<line x1="1719.6" y1="1482.2" x2="1725.3" y2="1482.2" stroke="#000" stroke-width="4.5" stroke-linecap="butt"/>
<line x1="1719.6" y1="1401.3" x2="1725.3" y2="1401.3" stroke="#000" stroke-width="4.5" stroke-linecap="butt"/>
<line x1="1719.6" y1="1320.5" x2="1725.3" y2="1320.5" stroke="#000" stroke-width="4.5" stroke-linecap="butt"/>
<line x1="1029.5" y1="1765.7" x2="1029.5" y2="1774.5" stroke="#000" stroke-width="4.5" stroke-linecap="butt"/>
<line x1="1167.3" y1="1765.7" x2="1167.3" y2="1774.5" stroke="#000" stroke-width="4.5" stroke-linecap="butt"/>
<line x1="1305.2" y1="1765.7" x2="1305.2" y2="1774.5" stroke="#000" stroke-width="4.5" stroke-linecap="butt"/>
<line x1="1443" y1="1765.7" x2="1443" y2="1774.5" stroke="#000" stroke-width="4.5" stroke-linecap="butt"/>
<line x1="1580.9" y1="1765.7" x2="1580.9" y2="1774.5" stroke="#000" stroke-width="4.5" stroke-linecap="butt"/>
<line x1="1718.7" y1="1765.7" x2="1718.7" y2="1774.5" stroke="#000" stroke-width="4.5" stroke-linecap="butt"/>
<line x1="1098.4" y1="1765.7" x2="1098.4" y2="1771" stroke="#000" stroke-width="4.5" stroke-linecap="butt"/>
<line x1="1236.3" y1="1765.7" x2="1236.3" y2="1771" stroke="#000" stroke-width="4.5" stroke-linecap="butt"/>
<line x1="1374.1" y1="1765.7" x2="1374.1" y2="1771" stroke="#000" stroke-width="4.5" stroke-linecap="butt"/>
<line x1="1511.9" y1="1765.7" x2="1511.9" y2="1771" stroke="#000" stroke-width="4.5" stroke-linecap="butt"/>
<line x1="1649.8" y1="1765.7" x2="1649.8" y2="1771" stroke="#000" stroke-width="4.5" stroke-linecap="butt"/>
<text x="1011" y="1773.7" font-size="28.3" font-weight="bold" fill="#ff0000" text-anchor="end" textLength="17.9" lengthAdjust="spacingAndGlyphs">0</text>
<text x="1011" y="1712.8" font-size="28.3" font-weight="bold" fill="#ff0000" text-anchor="end" textLength="35.9" lengthAdjust="spacingAndGlyphs">20</text>
<text x="1011" y="1651.9" font-size="28.3" font-weight="bold" fill="#ff0000" text-anchor="end" textLength="35.9" lengthAdjust="spacingAndGlyphs">40</text>
<text x="1011" y="1591.1" font-size="28.3" font-weight="bold" fill="#ff0000" text-anchor="end" textLength="35.9" lengthAdjust="spacingAndGlyphs">60</text>
<text x="1011" y="1530.2" font-size="28.3" font-weight="bold" fill="#ff0000" text-anchor="end" textLength="35.9" lengthAdjust="spacingAndGlyphs">80</text>
<text x="1011" y="1469.3" font-size="28.3" font-weight="bold" fill="#ff0000" text-anchor="end" textLength="53.8" lengthAdjust="spacingAndGlyphs">100</text>
<text x="1011" y="1408.4" font-size="28.3" font-weight="bold" fill="#ff0000" text-anchor="end" textLength="53.8" lengthAdjust="spacingAndGlyphs">120</text>
<text x="1011" y="1347.5" font-size="28.3" font-weight="bold" fill="#ff0000" text-anchor="end" textLength="53.8" lengthAdjust="spacingAndGlyphs">140</text>
<text x="1011" y="1286.7" font-size="28.3" font-weight="bold" fill="#ff0000" text-anchor="end" textLength="53.8" lengthAdjust="spacingAndGlyphs">160</text>
<text x="1736.5" y="1772.6" font-size="29" font-weight="bold" fill="#0000ff" text-anchor="start" font-family="Liberation Serif, serif" textLength="17.7" lengthAdjust="spacingAndGlyphs">0</text>
<text x="1736.5" y="1691.7" font-size="29" font-weight="bold" fill="#0000ff" text-anchor="start" font-family="Liberation Serif, serif" textLength="35.5" lengthAdjust="spacingAndGlyphs">20</text>
<text x="1736.5" y="1610.8" font-size="29" font-weight="bold" fill="#0000ff" text-anchor="start" font-family="Liberation Serif, serif" textLength="35.5" lengthAdjust="spacingAndGlyphs">40</text>
<text x="1736.5" y="1530.0" font-size="29" font-weight="bold" fill="#0000ff" text-anchor="start" font-family="Liberation Serif, serif" textLength="35.5" lengthAdjust="spacingAndGlyphs">60</text>
<text x="1736.5" y="1449.1" font-size="29" font-weight="bold" fill="#0000ff" text-anchor="start" font-family="Liberation Serif, serif" textLength="35.5" lengthAdjust="spacingAndGlyphs">80</text>
<text x="1736.5" y="1368.2" font-size="29" font-weight="bold" fill="#0000ff" text-anchor="start" font-family="Liberation Serif, serif" textLength="53.2" lengthAdjust="spacingAndGlyphs">100</text>
<text x="1736.5" y="1287.3" font-size="29" font-weight="bold" fill="#0000ff" text-anchor="start" font-family="Liberation Serif, serif" textLength="53.2" lengthAdjust="spacingAndGlyphs">120</text>
<text x="1029.5" y="1802.3" font-size="29.9" font-weight="bold" fill="#000000" text-anchor="middle" font-family="Liberation Serif, serif" textLength="17.5" lengthAdjust="spacingAndGlyphs">0</text>
<text x="1167.3" y="1802.3" font-size="29.9" font-weight="bold" fill="#000000" text-anchor="middle" font-family="Liberation Serif, serif" textLength="52.4" lengthAdjust="spacingAndGlyphs">200</text>
<text x="1305.2" y="1802.3" font-size="29.9" font-weight="bold" fill="#000000" text-anchor="middle" font-family="Liberation Serif, serif" textLength="52.4" lengthAdjust="spacingAndGlyphs">400</text>
<text x="1443.0" y="1802.3" font-size="29.9" font-weight="bold" fill="#000000" text-anchor="middle" font-family="Liberation Serif, serif" textLength="52.4" lengthAdjust="spacingAndGlyphs">600</text>
<text x="1580.9" y="1802.3" font-size="29.9" font-weight="bold" fill="#000000" text-anchor="middle" font-family="Liberation Serif, serif" textLength="52.4" lengthAdjust="spacingAndGlyphs">800</text>
<text x="1718.7" y="1802.3" font-size="29.9" font-weight="bold" fill="#000000" text-anchor="middle" font-family="Liberation Serif, serif" textLength="69.8" lengthAdjust="spacingAndGlyphs">1000</text>
<text x="1033.5" y="1324.8" font-size="46" font-weight="bold" fill="#000" text-anchor="start" textLength="55.2" lengthAdjust="spacingAndGlyphs">(f)</text>
<line x1="1178.8" y1="1404.6" x2="1178.8" y2="1436.5" stroke="#ff0000" stroke-width="3.4" stroke-linecap="square"/>
<line x1="1178.8" y1="1436.5" x2="1055.5" y2="1436.5" stroke="#ff0000" stroke-width="3.4" stroke-linecap="butt"/>
<polygon points="1037.5,1436.5 1060.5,1430.7 1060.5,1442.3" fill="#ff0000"/>
<line x1="1144.7" y1="1551.4" x2="1144.7" y2="1587" stroke="#ff0000" stroke-width="3.4" stroke-linecap="square"/>
<line x1="1144.7" y1="1587" x2="1059.8" y2="1587" stroke="#ff0000" stroke-width="3.4" stroke-linecap="butt"/>
<polygon points="1041.8,1587.0 1064.8,1581.2 1064.8,1592.8" fill="#ff0000"/>
<line x1="1523" y1="1357.4" x2="1523" y2="1322.6" stroke="#0000ff" stroke-width="3.4" stroke-linecap="square"/>
<line x1="1523" y1="1322.6" x2="1599.9" y2="1322.6" stroke="#0000ff" stroke-width="3.4" stroke-linecap="butt"/>
<polygon points="1617.9,1322.6 1594.9,1317.1 1594.9,1328.1" fill="#0000ff"/>
<line x1="1600.3" y1="1381.3" x2="1600.3" y2="1417.9" stroke="#0000ff" stroke-width="3.4" stroke-linecap="square"/>
<line x1="1600.3" y1="1417.9" x2="1677.2" y2="1417.9" stroke="#0000ff" stroke-width="3.4" stroke-linecap="butt"/>
<polygon points="1695.2,1417.9 1672.2,1412.4 1672.2,1423.4" fill="#0000ff"/>
<text x="1087" y="1467.1" font-size="26" font-weight="bold" fill="#ff0000" text-anchor="start" textLength="46.5" lengthAdjust="spacingAndGlyphs">2 C</text>
<text x="1068" y="1616.7" font-size="27" font-weight="bold" fill="#ff0000" text-anchor="start" textLength="63.9" lengthAdjust="spacingAndGlyphs">10 C</text>
<text x="1541.5" y="1316.0" font-size="28" font-weight="bold" fill="#0000ff" text-anchor="start" font-family="Liberation Serif, serif" textLength="48.8" lengthAdjust="spacingAndGlyphs">2 C</text>
<text x="1609" y="1443.6" font-size="26.5" font-weight="bold" fill="#0000ff" text-anchor="start" textLength="64.4" lengthAdjust="spacingAndGlyphs">10 C</text>
<text transform="translate(942.6 1776.5) scale(1.200 1) rotate(-90)" font-size="36.5" font-weight="bold" fill="#ff0000" style="white-space:pre">Discharge Capacity <tspan font-weight="normal">(</tspan>mAh g<tspan font-size="22" dy="-13">-1</tspan><tspan dy="13" font-weight="normal">)</tspan></text>
<text transform="translate(1808.8 1639.9) scale(1.200 1) rotate(-90)" font-size="36.5" font-weight="bold" fill="#0000ff" style="white-space:pre">Efficiency (%)</text>
<text x="1224.5" y="1842.1" font-size="35.6" font-weight="bold" fill="#000" text-anchor="start" textLength="272.9" lengthAdjust="spacingAndGlyphs">Cycle Number</text>
</svg>
</body></html>
